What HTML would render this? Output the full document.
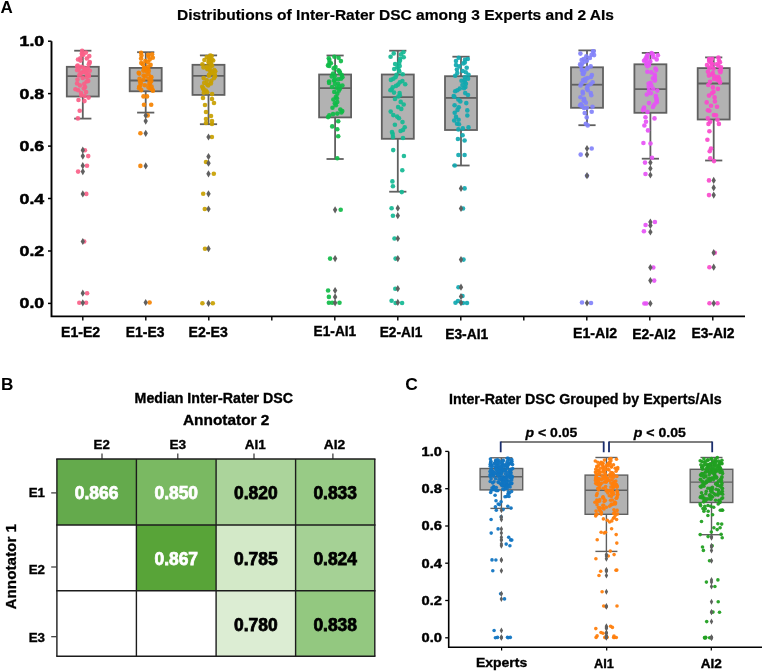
<!DOCTYPE html><html><head><meta charset="utf-8"><style>html,body{margin:0;padding:0;background:#fff;}svg{display:block;will-change:transform;}text{font-family:"Liberation Sans",sans-serif;font-weight:bold;}</style></head><body>
<svg width="765" height="672" viewBox="0 0 765 672">
<rect width="765" height="672" fill="#fff"/>
<text x="0.5" y="12.8" font-size="17" text-anchor="start" fill="#000" >A</text>
<text x="177" y="20.4" font-size="15" text-anchor="start" fill="#000" textLength="437" lengthAdjust="spacingAndGlyphs" stroke="#000" stroke-width="0.2" >Distributions of Inter-Rater DSC among 3 Experts and 2 AIs</text>
<path d="M51.5 41.2 V316.4 H745" fill="none" stroke="#000" stroke-width="1.9"/>
<line x1="48" y1="303.4" x2="51.5" y2="303.4" stroke="#000" stroke-width="1.5"/>
<text x="44.2" y="308.4" font-size="14" text-anchor="end" fill="#000" textLength="24.6" lengthAdjust="spacingAndGlyphs" stroke="#000" stroke-width="0.5" >0.0</text>
<line x1="48" y1="251.0" x2="51.5" y2="251.0" stroke="#000" stroke-width="1.5"/>
<text x="44.2" y="255.95999999999998" font-size="14" text-anchor="end" fill="#000" textLength="24.6" lengthAdjust="spacingAndGlyphs" stroke="#000" stroke-width="0.5" >0.2</text>
<line x1="48" y1="198.5" x2="51.5" y2="198.5" stroke="#000" stroke-width="1.5"/>
<text x="44.2" y="203.51999999999998" font-size="14" text-anchor="end" fill="#000" textLength="24.6" lengthAdjust="spacingAndGlyphs" stroke="#000" stroke-width="0.5" >0.4</text>
<line x1="48" y1="146.1" x2="51.5" y2="146.1" stroke="#000" stroke-width="1.5"/>
<text x="44.2" y="151.07999999999998" font-size="14" text-anchor="end" fill="#000" textLength="24.6" lengthAdjust="spacingAndGlyphs" stroke="#000" stroke-width="0.5" >0.6</text>
<line x1="48" y1="93.6" x2="51.5" y2="93.6" stroke="#000" stroke-width="1.5"/>
<text x="44.2" y="98.63999999999999" font-size="14" text-anchor="end" fill="#000" textLength="24.6" lengthAdjust="spacingAndGlyphs" stroke="#000" stroke-width="0.5" >0.8</text>
<line x1="48" y1="41.2" x2="51.5" y2="41.2" stroke="#000" stroke-width="1.5"/>
<text x="44.2" y="46.19999999999999" font-size="14" text-anchor="end" fill="#000" textLength="24.6" lengthAdjust="spacingAndGlyphs" stroke="#000" stroke-width="0.5" >1.0</text>
<line x1="82.8" y1="316.4" x2="82.8" y2="320.5" stroke="#000" stroke-width="1.4"/>
<line x1="145.8" y1="316.4" x2="145.8" y2="320.5" stroke="#000" stroke-width="1.4"/>
<line x1="208.8" y1="316.4" x2="208.8" y2="320.5" stroke="#000" stroke-width="1.4"/>
<line x1="271.8" y1="316.4" x2="271.8" y2="320.5" stroke="#000" stroke-width="1.4"/>
<line x1="334.8" y1="316.4" x2="334.8" y2="320.5" stroke="#000" stroke-width="1.4"/>
<line x1="397.8" y1="316.4" x2="397.8" y2="320.5" stroke="#000" stroke-width="1.4"/>
<line x1="460.8" y1="316.4" x2="460.8" y2="320.5" stroke="#000" stroke-width="1.4"/>
<line x1="523.8" y1="316.4" x2="523.8" y2="320.5" stroke="#000" stroke-width="1.4"/>
<line x1="586.8" y1="316.4" x2="586.8" y2="320.5" stroke="#000" stroke-width="1.4"/>
<line x1="649.8" y1="316.4" x2="649.8" y2="320.5" stroke="#000" stroke-width="1.4"/>
<line x1="712.8" y1="316.4" x2="712.8" y2="320.5" stroke="#000" stroke-width="1.4"/>
<text x="80.6" y="336.79999999999995" font-size="14.6" text-anchor="middle" fill="#000" textLength="39.2" lengthAdjust="spacingAndGlyphs" stroke="#000" stroke-width="0.35" >E1-E2</text>
<text x="145.1" y="336.79999999999995" font-size="14.6" text-anchor="middle" fill="#000" textLength="38.7" lengthAdjust="spacingAndGlyphs" stroke="#000" stroke-width="0.35" >E1-E3</text>
<text x="208.2" y="336.79999999999995" font-size="14.6" text-anchor="middle" fill="#000" textLength="39.2" lengthAdjust="spacingAndGlyphs" stroke="#000" stroke-width="0.35" >E2-E3</text>
<text x="334.9" y="335.7" font-size="14.6" text-anchor="middle" fill="#000" textLength="42.6" lengthAdjust="spacingAndGlyphs" stroke="#000" stroke-width="0.35" >E1-AI1</text>
<text x="401" y="336.79999999999995" font-size="14.6" text-anchor="middle" fill="#000" textLength="42.7" lengthAdjust="spacingAndGlyphs" stroke="#000" stroke-width="0.35" >E2-AI1</text>
<text x="466.7" y="339.4" font-size="14.6" text-anchor="middle" fill="#000" textLength="43.1" lengthAdjust="spacingAndGlyphs" stroke="#000" stroke-width="0.35" >E3-AI1</text>
<text x="595" y="337.5" font-size="14.6" text-anchor="middle" fill="#000" textLength="44.1" lengthAdjust="spacingAndGlyphs" stroke="#000" stroke-width="0.35" >E1-AI2</text>
<text x="654" y="339.29999999999995" font-size="14.6" text-anchor="middle" fill="#000" textLength="43.3" lengthAdjust="spacingAndGlyphs" stroke="#000" stroke-width="0.35" >E2-AI2</text>
<text x="713" y="337.5" font-size="14.6" text-anchor="middle" fill="#000" textLength="43.2" lengthAdjust="spacingAndGlyphs" stroke="#000" stroke-width="0.35" >E3-AI2</text>
<g stroke="#606060" stroke-width="1.8" fill="none"><line x1="82.8" y1="50.7" x2="82.8" y2="66.8"/><line x1="82.8" y1="96.5" x2="82.8" y2="118.6"/><line x1="74.2" y1="50.7" x2="91.39999999999999" y2="50.7"/><line x1="74.2" y1="118.6" x2="91.39999999999999" y2="118.6"/><rect x="66.8" y="66.8" width="32" height="29.700000000000003" fill="#b2b2b2"/><line x1="66.8" y1="76.2" x2="98.8" y2="76.2"/></g>
<g stroke="#606060" stroke-width="1.8" fill="none"><line x1="145.7" y1="52.2" x2="145.7" y2="67.9"/><line x1="145.7" y1="91.3" x2="145.7" y2="112.6"/><line x1="137.1" y1="52.2" x2="154.29999999999998" y2="52.2"/><line x1="137.1" y1="112.6" x2="154.29999999999998" y2="112.6"/><rect x="129.7" y="67.9" width="32" height="23.39999999999999" fill="#b2b2b2"/><line x1="129.7" y1="80.5" x2="161.7" y2="80.5"/></g>
<g stroke="#606060" stroke-width="1.8" fill="none"><line x1="208.5" y1="55.4" x2="208.5" y2="64.8"/><line x1="208.5" y1="94.9" x2="208.5" y2="124.2"/><line x1="199.9" y1="55.4" x2="217.1" y2="55.4"/><line x1="199.9" y1="124.2" x2="217.1" y2="124.2"/><rect x="192.5" y="64.8" width="32" height="30.10000000000001" fill="#b2b2b2"/><line x1="192.5" y1="75.8" x2="224.5" y2="75.8"/></g>
<g stroke="#606060" stroke-width="1.8" fill="none"><line x1="335.1" y1="55.5" x2="335.1" y2="74.5"/><line x1="335.1" y1="117.4" x2="335.1" y2="159.0"/><line x1="326.5" y1="55.5" x2="343.70000000000005" y2="55.5"/><line x1="326.5" y1="159.0" x2="343.70000000000005" y2="159.0"/><rect x="319.1" y="74.5" width="32" height="42.900000000000006" fill="#b2b2b2"/><line x1="319.1" y1="88.1" x2="351.1" y2="88.1"/></g>
<g stroke="#606060" stroke-width="1.8" fill="none"><line x1="397.8" y1="50.7" x2="397.8" y2="74.5"/><line x1="397.8" y1="138.8" x2="397.8" y2="191.7"/><line x1="389.2" y1="50.7" x2="406.40000000000003" y2="50.7"/><line x1="389.2" y1="191.7" x2="406.40000000000003" y2="191.7"/><rect x="381.8" y="74.5" width="32" height="64.30000000000001" fill="#b2b2b2"/><line x1="381.8" y1="97.1" x2="413.8" y2="97.1"/></g>
<g stroke="#606060" stroke-width="1.8" fill="none"><line x1="461.0" y1="56.7" x2="461.0" y2="76.2"/><line x1="461.0" y1="130.0" x2="461.0" y2="165.5"/><line x1="452.4" y1="56.7" x2="469.6" y2="56.7"/><line x1="452.4" y1="165.5" x2="469.6" y2="165.5"/><rect x="445.0" y="76.2" width="32" height="53.8" fill="#b2b2b2"/><line x1="445.0" y1="97.9" x2="477.0" y2="97.9"/></g>
<g stroke="#606060" stroke-width="1.8" fill="none"><line x1="587.0" y1="50.4" x2="587.0" y2="67.3"/><line x1="587.0" y1="107.8" x2="587.0" y2="125.2"/><line x1="578.4" y1="50.4" x2="595.6" y2="50.4"/><line x1="578.4" y1="125.2" x2="595.6" y2="125.2"/><rect x="571.0" y="67.3" width="32" height="40.5" fill="#b2b2b2"/><line x1="571.0" y1="84.7" x2="603.0" y2="84.7"/></g>
<g stroke="#606060" stroke-width="1.8" fill="none"><line x1="650.4" y1="52.9" x2="650.4" y2="64.3"/><line x1="650.4" y1="112.8" x2="650.4" y2="158.7"/><line x1="641.8" y1="52.9" x2="659.0" y2="52.9"/><line x1="641.8" y1="158.7" x2="659.0" y2="158.7"/><rect x="634.4" y="64.3" width="32" height="48.5" fill="#b2b2b2"/><line x1="634.4" y1="89.2" x2="666.4" y2="89.2"/></g>
<g stroke="#606060" stroke-width="1.8" fill="none"><line x1="713.7" y1="57.4" x2="713.7" y2="68.1"/><line x1="713.7" y1="119.5" x2="713.7" y2="160.5"/><line x1="705.1" y1="57.4" x2="722.3000000000001" y2="57.4"/><line x1="705.1" y1="160.5" x2="722.3000000000001" y2="160.5"/><rect x="697.7" y="68.1" width="32" height="51.400000000000006" fill="#b2b2b2"/><line x1="697.7" y1="83.5" x2="729.7" y2="83.5"/></g>
<g fill="#fa6088" fill-opacity="0.92"><circle cx="82.1" cy="50.9" r="2.3"/><circle cx="85.9" cy="52.6" r="2.3"/><circle cx="81.8" cy="53.6" r="2.3"/><circle cx="83.3" cy="54.8" r="2.3"/><circle cx="82.1" cy="55.1" r="2.3"/><circle cx="89.3" cy="56.1" r="2.3"/><circle cx="80.3" cy="58.2" r="2.3"/><circle cx="86.8" cy="58.5" r="2.3"/><circle cx="78.0" cy="59.5" r="2.3"/><circle cx="80.5" cy="60.6" r="2.3"/><circle cx="89.7" cy="62.1" r="2.3"/><circle cx="89.6" cy="62.7" r="2.3"/><circle cx="88.8" cy="64.2" r="2.3"/><circle cx="77.7" cy="65.5" r="2.3"/><circle cx="77.2" cy="66.4" r="2.3"/><circle cx="81.2" cy="66.8" r="2.3"/><circle cx="83.8" cy="67.8" r="2.3"/><circle cx="87.9" cy="68.1" r="2.3"/><circle cx="78.9" cy="69.1" r="2.3"/><circle cx="84.9" cy="69.4" r="2.3"/><circle cx="77.2" cy="70.3" r="2.3"/><circle cx="89.8" cy="70.7" r="2.3"/><circle cx="86.1" cy="71.3" r="2.3"/><circle cx="82.9" cy="72.0" r="2.3"/><circle cx="84.2" cy="72.3" r="2.3"/><circle cx="80.4" cy="73.0" r="2.3"/><circle cx="80.7" cy="73.8" r="2.3"/><circle cx="86.7" cy="74.1" r="2.3"/><circle cx="88.7" cy="74.9" r="2.3"/><circle cx="79.1" cy="75.4" r="2.3"/><circle cx="88.9" cy="76.1" r="2.3"/><circle cx="86.8" cy="77.1" r="2.3"/><circle cx="82.7" cy="78.1" r="2.3"/><circle cx="77.5" cy="79.5" r="2.3"/><circle cx="88.2" cy="80.9" r="2.3"/><circle cx="86.6" cy="81.5" r="2.3"/><circle cx="77.1" cy="83.4" r="2.3"/><circle cx="84.2" cy="83.9" r="2.3"/><circle cx="79.9" cy="85.4" r="2.3"/><circle cx="85.1" cy="87.1" r="2.3"/><circle cx="83.8" cy="88.6" r="2.3"/><circle cx="75.5" cy="89.3" r="2.3"/><circle cx="78.2" cy="90.3" r="2.3"/><circle cx="86.1" cy="92.1" r="2.3"/><circle cx="81.1" cy="93.0" r="2.3"/><circle cx="81.3" cy="95.2" r="2.3"/><circle cx="84.6" cy="96.1" r="2.3"/><circle cx="88.6" cy="97.6" r="2.3"/><circle cx="78.5" cy="100.0" r="2.3"/><circle cx="84.5" cy="101.1" r="2.3"/><circle cx="79.7" cy="110.7" r="2.3"/><circle cx="77.9" cy="118.4" r="2.3"/><circle cx="84.9" cy="150.2" r="2.3"/><circle cx="88.2" cy="156.1" r="2.3"/><circle cx="87.0" cy="165.7" r="2.3"/><circle cx="78.1" cy="171.6" r="2.3"/><circle cx="86.3" cy="193.9" r="2.3"/><circle cx="84.2" cy="241.5" r="2.3"/><circle cx="87.1" cy="293.2" r="2.3"/><circle cx="79.3" cy="302.8" r="2.3"/><circle cx="86.1" cy="302.8" r="2.3"/></g>
<g fill="#606060"><path d="M82.8 146.6 l2.2 3.6 l-2.2 3.6 l-2.2 -3.6z"/><path d="M82.8 152.5 l2.2 3.6 l-2.2 3.6 l-2.2 -3.6z"/><path d="M82.8 162.1 l2.2 3.6 l-2.2 3.6 l-2.2 -3.6z"/><path d="M82.8 168.0 l2.2 3.6 l-2.2 3.6 l-2.2 -3.6z"/><path d="M82.8 190.3 l2.2 3.6 l-2.2 3.6 l-2.2 -3.6z"/><path d="M82.8 237.9 l2.2 3.6 l-2.2 3.6 l-2.2 -3.6z"/><path d="M82.8 289.6 l2.2 3.6 l-2.2 3.6 l-2.2 -3.6z"/><path d="M82.8 299.2 l2.2 3.6 l-2.2 3.6 l-2.2 -3.6z"/></g>
<g fill="#f58200" fill-opacity="0.92"><circle cx="141.1" cy="52.8" r="2.3"/><circle cx="152.1" cy="54.3" r="2.3"/><circle cx="148.2" cy="54.8" r="2.3"/><circle cx="141.5" cy="55.6" r="2.3"/><circle cx="148.6" cy="56.7" r="2.3"/><circle cx="152.8" cy="57.7" r="2.3"/><circle cx="141.1" cy="58.6" r="2.3"/><circle cx="149.7" cy="59.6" r="2.3"/><circle cx="145.3" cy="61.0" r="2.3"/><circle cx="147.8" cy="62.0" r="2.3"/><circle cx="141.3" cy="63.1" r="2.3"/><circle cx="142.8" cy="64.2" r="2.3"/><circle cx="150.6" cy="64.9" r="2.3"/><circle cx="148.2" cy="66.5" r="2.3"/><circle cx="144.1" cy="67.8" r="2.3"/><circle cx="144.5" cy="68.2" r="2.3"/><circle cx="148.2" cy="69.0" r="2.3"/><circle cx="145.2" cy="69.5" r="2.3"/><circle cx="143.4" cy="70.7" r="2.3"/><circle cx="148.8" cy="71.1" r="2.3"/><circle cx="146.7" cy="71.8" r="2.3"/><circle cx="138.7" cy="72.7" r="2.3"/><circle cx="139.2" cy="73.6" r="2.3"/><circle cx="148.5" cy="74.3" r="2.3"/><circle cx="143.6" cy="75.6" r="2.3"/><circle cx="145.3" cy="76.3" r="2.3"/><circle cx="151.3" cy="77.0" r="2.3"/><circle cx="151.2" cy="77.6" r="2.3"/><circle cx="148.5" cy="78.7" r="2.3"/><circle cx="139.5" cy="78.9" r="2.3"/><circle cx="143.4" cy="79.7" r="2.3"/><circle cx="151.3" cy="81.1" r="2.3"/><circle cx="140.0" cy="81.7" r="2.3"/><circle cx="149.8" cy="82.3" r="2.3"/><circle cx="150.1" cy="83.1" r="2.3"/><circle cx="140.9" cy="83.3" r="2.3"/><circle cx="149.3" cy="84.4" r="2.3"/><circle cx="144.9" cy="85.2" r="2.3"/><circle cx="140.3" cy="85.8" r="2.3"/><circle cx="151.5" cy="86.5" r="2.3"/><circle cx="139.2" cy="86.8" r="2.3"/><circle cx="148.5" cy="87.6" r="2.3"/><circle cx="139.1" cy="88.2" r="2.3"/><circle cx="150.6" cy="88.8" r="2.3"/><circle cx="152.3" cy="89.3" r="2.3"/><circle cx="141.3" cy="90.1" r="2.3"/><circle cx="152.9" cy="90.7" r="2.3"/><circle cx="143.5" cy="96.4" r="2.3"/><circle cx="147.0" cy="96.4" r="2.3"/><circle cx="144.0" cy="104.7" r="2.3"/><circle cx="151.2" cy="104.7" r="2.3"/><circle cx="147.7" cy="115.4" r="2.3"/><circle cx="140.4" cy="133.3" r="2.3"/><circle cx="140.4" cy="165.9" r="2.3"/><circle cx="149.6" cy="302.5" r="2.3"/></g>
<g fill="#606060"><path d="M145.7 111.8 l2.2 3.6 l-2.2 3.6 l-2.2 -3.6z"/><path d="M145.7 117.5 l2.2 3.6 l-2.2 3.6 l-2.2 -3.6z"/><path d="M145.7 129.7 l2.2 3.6 l-2.2 3.6 l-2.2 -3.6z"/><path d="M145.7 162.3 l2.2 3.6 l-2.2 3.6 l-2.2 -3.6z"/><path d="M145.7 298.9 l2.2 3.6 l-2.2 3.6 l-2.2 -3.6z"/></g>
<g fill="#c8a000" fill-opacity="0.92"><circle cx="210.2" cy="55.5" r="2.3"/><circle cx="211.7" cy="56.1" r="2.3"/><circle cx="206.8" cy="57.0" r="2.3"/><circle cx="209.5" cy="57.7" r="2.3"/><circle cx="209.0" cy="57.9" r="2.3"/><circle cx="208.8" cy="58.9" r="2.3"/><circle cx="212.0" cy="59.7" r="2.3"/><circle cx="204.4" cy="60.0" r="2.3"/><circle cx="213.2" cy="60.5" r="2.3"/><circle cx="210.1" cy="61.5" r="2.3"/><circle cx="208.5" cy="61.9" r="2.3"/><circle cx="209.0" cy="62.4" r="2.3"/><circle cx="210.3" cy="63.0" r="2.3"/><circle cx="211.1" cy="63.9" r="2.3"/><circle cx="202.4" cy="64.3" r="2.3"/><circle cx="211.3" cy="65.0" r="2.3"/><circle cx="212.2" cy="65.8" r="2.3"/><circle cx="207.0" cy="66.5" r="2.3"/><circle cx="203.5" cy="67.5" r="2.3"/><circle cx="209.8" cy="67.7" r="2.3"/><circle cx="207.5" cy="68.7" r="2.3"/><circle cx="207.6" cy="69.3" r="2.3"/><circle cx="214.3" cy="70.1" r="2.3"/><circle cx="210.6" cy="70.9" r="2.3"/><circle cx="215.2" cy="71.3" r="2.3"/><circle cx="210.4" cy="72.0" r="2.3"/><circle cx="211.3" cy="73.0" r="2.3"/><circle cx="212.1" cy="73.3" r="2.3"/><circle cx="214.7" cy="74.2" r="2.3"/><circle cx="209.0" cy="74.9" r="2.3"/><circle cx="208.9" cy="75.8" r="2.3"/><circle cx="215.1" cy="76.3" r="2.3"/><circle cx="203.6" cy="78.1" r="2.3"/><circle cx="213.9" cy="78.3" r="2.3"/><circle cx="206.8" cy="80.4" r="2.3"/><circle cx="211.3" cy="80.9" r="2.3"/><circle cx="204.2" cy="82.9" r="2.3"/><circle cx="210.9" cy="83.5" r="2.3"/><circle cx="207.2" cy="84.4" r="2.3"/><circle cx="208.2" cy="85.5" r="2.3"/><circle cx="202.2" cy="86.8" r="2.3"/><circle cx="203.3" cy="88.2" r="2.3"/><circle cx="203.3" cy="89.1" r="2.3"/><circle cx="205.8" cy="90.6" r="2.3"/><circle cx="207.2" cy="92.2" r="2.3"/><circle cx="203.8" cy="92.8" r="2.3"/><circle cx="212.1" cy="94.1" r="2.3"/><circle cx="203.0" cy="98.0" r="2.3"/><circle cx="212.0" cy="99.0" r="2.3"/><circle cx="205.0" cy="105.0" r="2.3"/><circle cx="214.0" cy="103.0" r="2.3"/><circle cx="206.0" cy="112.0" r="2.3"/><circle cx="211.0" cy="116.0" r="2.3"/><circle cx="206.0" cy="119.0" r="2.3"/><circle cx="212.0" cy="121.0" r="2.3"/><circle cx="206.0" cy="123.0" r="2.3"/><circle cx="212.0" cy="124.0" r="2.3"/><circle cx="211.9" cy="137.0" r="2.3"/><circle cx="206.0" cy="162.0" r="2.3"/><circle cx="213.8" cy="173.8" r="2.3"/><circle cx="203.2" cy="193.8" r="2.3"/><circle cx="204.8" cy="209.0" r="2.3"/><circle cx="205.0" cy="248.7" r="2.3"/><circle cx="202.4" cy="303.3" r="2.3"/><circle cx="212.8" cy="303.3" r="2.3"/></g>
<g fill="#606060"><path d="M208.5 133.4 l2.2 3.6 l-2.2 3.6 l-2.2 -3.6z"/><path d="M208.5 153.0 l2.2 3.6 l-2.2 3.6 l-2.2 -3.6z"/><path d="M208.5 159.6 l2.2 3.6 l-2.2 3.6 l-2.2 -3.6z"/><path d="M208.5 170.2 l2.2 3.6 l-2.2 3.6 l-2.2 -3.6z"/><path d="M208.5 190.2 l2.2 3.6 l-2.2 3.6 l-2.2 -3.6z"/><path d="M208.5 205.4 l2.2 3.6 l-2.2 3.6 l-2.2 -3.6z"/><path d="M208.5 245.1 l2.2 3.6 l-2.2 3.6 l-2.2 -3.6z"/><path d="M208.5 299.7 l2.2 3.6 l-2.2 3.6 l-2.2 -3.6z"/></g>
<g fill="#10bb48" fill-opacity="0.92"><circle cx="334.4" cy="56.7" r="2.3"/><circle cx="338.6" cy="57.7" r="2.3"/><circle cx="328.8" cy="58.3" r="2.3"/><circle cx="329.4" cy="60.1" r="2.3"/><circle cx="340.9" cy="61.1" r="2.3"/><circle cx="329.4" cy="62.9" r="2.3"/><circle cx="330.9" cy="63.2" r="2.3"/><circle cx="328.0" cy="65.4" r="2.3"/><circle cx="329.2" cy="65.9" r="2.3"/><circle cx="335.5" cy="67.1" r="2.3"/><circle cx="333.7" cy="68.4" r="2.3"/><circle cx="338.4" cy="70.4" r="2.3"/><circle cx="339.4" cy="71.2" r="2.3"/><circle cx="340.0" cy="72.7" r="2.3"/><circle cx="333.1" cy="73.5" r="2.3"/><circle cx="341.8" cy="75.0" r="2.3"/><circle cx="334.7" cy="75.9" r="2.3"/><circle cx="331.8" cy="76.4" r="2.3"/><circle cx="342.4" cy="77.2" r="2.3"/><circle cx="341.0" cy="78.7" r="2.3"/><circle cx="338.2" cy="79.2" r="2.3"/><circle cx="334.8" cy="79.9" r="2.3"/><circle cx="333.9" cy="80.6" r="2.3"/><circle cx="329.1" cy="81.5" r="2.3"/><circle cx="329.1" cy="82.9" r="2.3"/><circle cx="338.1" cy="83.7" r="2.3"/><circle cx="334.9" cy="83.9" r="2.3"/><circle cx="342.4" cy="85.5" r="2.3"/><circle cx="339.2" cy="86.0" r="2.3"/><circle cx="332.0" cy="87.0" r="2.3"/><circle cx="336.6" cy="87.7" r="2.3"/><circle cx="339.9" cy="88.8" r="2.3"/><circle cx="338.8" cy="90.7" r="2.3"/><circle cx="334.3" cy="91.9" r="2.3"/><circle cx="337.3" cy="93.7" r="2.3"/><circle cx="335.8" cy="97.0" r="2.3"/><circle cx="336.9" cy="98.3" r="2.3"/><circle cx="333.4" cy="99.5" r="2.3"/><circle cx="337.3" cy="102.0" r="2.3"/><circle cx="334.8" cy="103.4" r="2.3"/><circle cx="335.9" cy="105.2" r="2.3"/><circle cx="332.5" cy="107.7" r="2.3"/><circle cx="340.3" cy="109.5" r="2.3"/><circle cx="342.3" cy="111.1" r="2.3"/><circle cx="341.4" cy="112.5" r="2.3"/><circle cx="333.1" cy="114.1" r="2.3"/><circle cx="328.1" cy="117.1" r="2.3"/><circle cx="329.3" cy="115.4" r="2.3"/><circle cx="337.3" cy="113.6" r="2.3"/><circle cx="338.2" cy="121.3" r="2.3"/><circle cx="332.2" cy="126.4" r="2.3"/><circle cx="337.3" cy="129.3" r="2.3"/><circle cx="338.2" cy="136.2" r="2.3"/><circle cx="337.3" cy="158.2" r="2.3"/><circle cx="340.7" cy="209.8" r="2.3"/><circle cx="330.1" cy="258.6" r="2.3"/><circle cx="328.1" cy="290.5" r="2.3"/><circle cx="328.9" cy="296.9" r="2.3"/><circle cx="328.9" cy="302.8" r="2.3"/><circle cx="332.2" cy="302.8" r="2.3"/><circle cx="339.5" cy="302.8" r="2.3"/></g>
<g fill="#606060"><path d="M335.1 206.2 l2.2 3.6 l-2.2 3.6 l-2.2 -3.6z"/><path d="M335.1 255.0 l2.2 3.6 l-2.2 3.6 l-2.2 -3.6z"/><path d="M335.1 286.9 l2.2 3.6 l-2.2 3.6 l-2.2 -3.6z"/><path d="M335.1 293.3 l2.2 3.6 l-2.2 3.6 l-2.2 -3.6z"/><path d="M335.1 299.2 l2.2 3.6 l-2.2 3.6 l-2.2 -3.6z"/></g>
<g fill="#14b894" fill-opacity="0.92"><circle cx="403.4" cy="52.2" r="2.3"/><circle cx="393.7" cy="53.4" r="2.3"/><circle cx="401.0" cy="54.4" r="2.3"/><circle cx="390.6" cy="56.7" r="2.3"/><circle cx="403.7" cy="57.3" r="2.3"/><circle cx="400.1" cy="58.8" r="2.3"/><circle cx="400.0" cy="60.7" r="2.3"/><circle cx="399.0" cy="63.2" r="2.3"/><circle cx="395.1" cy="64.0" r="2.3"/><circle cx="399.7" cy="66.0" r="2.3"/><circle cx="397.3" cy="67.2" r="2.3"/><circle cx="394.2" cy="69.0" r="2.3"/><circle cx="398.8" cy="70.0" r="2.3"/><circle cx="399.3" cy="71.5" r="2.3"/><circle cx="402.7" cy="74.2" r="2.3"/><circle cx="396.5" cy="74.9" r="2.3"/><circle cx="395.5" cy="77.2" r="2.3"/><circle cx="393.3" cy="78.7" r="2.3"/><circle cx="390.9" cy="79.9" r="2.3"/><circle cx="402.4" cy="81.1" r="2.3"/><circle cx="399.8" cy="82.3" r="2.3"/><circle cx="405.2" cy="84.3" r="2.3"/><circle cx="398.1" cy="84.6" r="2.3"/><circle cx="396.0" cy="85.9" r="2.3"/><circle cx="392.7" cy="87.4" r="2.3"/><circle cx="391.6" cy="89.5" r="2.3"/><circle cx="390.4" cy="90.3" r="2.3"/><circle cx="394.0" cy="92.6" r="2.3"/><circle cx="399.6" cy="93.0" r="2.3"/><circle cx="399.8" cy="95.3" r="2.3"/><circle cx="398.3" cy="96.5" r="2.3"/><circle cx="395.0" cy="99.0" r="2.3"/><circle cx="400.7" cy="101.9" r="2.3"/><circle cx="403.7" cy="104.5" r="2.3"/><circle cx="398.1" cy="107.1" r="2.3"/><circle cx="401.3" cy="108.9" r="2.3"/><circle cx="390.7" cy="111.6" r="2.3"/><circle cx="393.3" cy="115.1" r="2.3"/><circle cx="397.1" cy="116.6" r="2.3"/><circle cx="399.0" cy="118.2" r="2.3"/><circle cx="402.5" cy="122.1" r="2.3"/><circle cx="394.9" cy="124.8" r="2.3"/><circle cx="404.7" cy="127.2" r="2.3"/><circle cx="403.0" cy="130.0" r="2.3"/><circle cx="400.6" cy="131.0" r="2.3"/><circle cx="392.7" cy="134.1" r="2.3"/><circle cx="393.0" cy="137.1" r="2.3"/><circle cx="392.0" cy="132.0" r="2.3"/><circle cx="403.0" cy="138.0" r="2.3"/><circle cx="393.2" cy="150.1" r="2.3"/><circle cx="403.9" cy="156.0" r="2.3"/><circle cx="402.3" cy="170.2" r="2.3"/><circle cx="392.4" cy="181.4" r="2.3"/><circle cx="392.9" cy="186.3" r="2.3"/><circle cx="401.8" cy="192.1" r="2.3"/><circle cx="391.6" cy="208.2" r="2.3"/><circle cx="392.9" cy="215.7" r="2.3"/><circle cx="394.5" cy="238.5" r="2.3"/><circle cx="395.6" cy="258.6" r="2.3"/><circle cx="395.3" cy="288.8" r="2.3"/><circle cx="391.6" cy="300.7" r="2.3"/><circle cx="395.6" cy="303.0" r="2.3"/><circle cx="402.1" cy="303.0" r="2.3"/></g>
<g fill="#606060"><path d="M397.8 204.6 l2.2 3.6 l-2.2 3.6 l-2.2 -3.6z"/><path d="M397.8 212.1 l2.2 3.6 l-2.2 3.6 l-2.2 -3.6z"/><path d="M397.8 234.9 l2.2 3.6 l-2.2 3.6 l-2.2 -3.6z"/><path d="M397.8 255.0 l2.2 3.6 l-2.2 3.6 l-2.2 -3.6z"/><path d="M397.8 285.1 l2.2 3.6 l-2.2 3.6 l-2.2 -3.6z"/><path d="M397.8 298.8 l2.2 3.6 l-2.2 3.6 l-2.2 -3.6z"/></g>
<g fill="#10a8b0" fill-opacity="0.92"><circle cx="458.7" cy="57.8" r="2.3"/><circle cx="467.8" cy="59.0" r="2.3"/><circle cx="465.0" cy="59.7" r="2.3"/><circle cx="456.0" cy="61.0" r="2.3"/><circle cx="464.8" cy="62.4" r="2.3"/><circle cx="463.4" cy="63.4" r="2.3"/><circle cx="456.0" cy="65.0" r="2.3"/><circle cx="459.3" cy="66.4" r="2.3"/><circle cx="466.7" cy="67.7" r="2.3"/><circle cx="456.9" cy="69.6" r="2.3"/><circle cx="462.7" cy="71.0" r="2.3"/><circle cx="465.8" cy="72.2" r="2.3"/><circle cx="457.3" cy="73.0" r="2.3"/><circle cx="468.5" cy="74.8" r="2.3"/><circle cx="455.2" cy="75.7" r="2.3"/><circle cx="465.0" cy="77.3" r="2.3"/><circle cx="468.1" cy="78.7" r="2.3"/><circle cx="464.5" cy="80.2" r="2.3"/><circle cx="461.5" cy="80.8" r="2.3"/><circle cx="464.9" cy="82.3" r="2.3"/><circle cx="465.9" cy="83.8" r="2.3"/><circle cx="462.4" cy="85.0" r="2.3"/><circle cx="465.4" cy="87.0" r="2.3"/><circle cx="464.0" cy="88.3" r="2.3"/><circle cx="459.8" cy="88.6" r="2.3"/><circle cx="457.4" cy="90.2" r="2.3"/><circle cx="455.2" cy="91.3" r="2.3"/><circle cx="465.2" cy="93.1" r="2.3"/><circle cx="468.0" cy="95.0" r="2.3"/><circle cx="453.7" cy="96.0" r="2.3"/><circle cx="454.4" cy="96.8" r="2.3"/><circle cx="458.3" cy="99.6" r="2.3"/><circle cx="460.3" cy="101.4" r="2.3"/><circle cx="466.3" cy="103.1" r="2.3"/><circle cx="454.6" cy="105.2" r="2.3"/><circle cx="458.8" cy="107.2" r="2.3"/><circle cx="457.5" cy="109.9" r="2.3"/><circle cx="467.3" cy="110.4" r="2.3"/><circle cx="454.7" cy="112.8" r="2.3"/><circle cx="467.3" cy="115.5" r="2.3"/><circle cx="456.0" cy="116.9" r="2.3"/><circle cx="458.6" cy="119.7" r="2.3"/><circle cx="454.2" cy="120.5" r="2.3"/><circle cx="457.0" cy="123.7" r="2.3"/><circle cx="459.0" cy="124.2" r="2.3"/><circle cx="468.5" cy="127.4" r="2.3"/><circle cx="462.8" cy="128.4" r="2.3"/><circle cx="458.4" cy="129.4" r="2.3"/><circle cx="462.6" cy="135.3" r="2.3"/><circle cx="457.9" cy="139.0" r="2.3"/><circle cx="464.6" cy="140.5" r="2.3"/><circle cx="458.4" cy="155.0" r="2.3"/><circle cx="464.6" cy="155.0" r="2.3"/><circle cx="454.7" cy="165.5" r="2.3"/><circle cx="464.6" cy="188.4" r="2.3"/><circle cx="463.0" cy="208.5" r="2.3"/><circle cx="463.5" cy="259.6" r="2.3"/><circle cx="458.5" cy="287.2" r="2.3"/><circle cx="462.5" cy="296.0" r="2.3"/><circle cx="455.5" cy="302.7" r="2.3"/><circle cx="458.0" cy="301.0" r="2.3"/><circle cx="463.0" cy="303.0" r="2.3"/><circle cx="467.0" cy="303.0" r="2.3"/></g>
<g fill="#606060"><path d="M461.0 184.8 l2.2 3.6 l-2.2 3.6 l-2.2 -3.6z"/><path d="M461.0 204.9 l2.2 3.6 l-2.2 3.6 l-2.2 -3.6z"/><path d="M461.0 256.0 l2.2 3.6 l-2.2 3.6 l-2.2 -3.6z"/><path d="M461.0 283.6 l2.2 3.6 l-2.2 3.6 l-2.2 -3.6z"/><path d="M461.0 292.9 l2.2 3.6 l-2.2 3.6 l-2.2 -3.6z"/><path d="M461.0 299.1 l2.2 3.6 l-2.2 3.6 l-2.2 -3.6z"/></g>
<g fill="#8282fa" fill-opacity="0.92"><circle cx="593.0" cy="51.2" r="2.3"/><circle cx="593.6" cy="51.5" r="2.3"/><circle cx="580.4" cy="53.6" r="2.3"/><circle cx="591.6" cy="54.7" r="2.3"/><circle cx="594.1" cy="55.1" r="2.3"/><circle cx="586.3" cy="56.4" r="2.3"/><circle cx="589.9" cy="57.9" r="2.3"/><circle cx="583.7" cy="59.1" r="2.3"/><circle cx="581.6" cy="60.0" r="2.3"/><circle cx="586.9" cy="60.8" r="2.3"/><circle cx="584.7" cy="61.8" r="2.3"/><circle cx="582.2" cy="63.7" r="2.3"/><circle cx="580.1" cy="64.4" r="2.3"/><circle cx="581.0" cy="65.9" r="2.3"/><circle cx="590.7" cy="66.4" r="2.3"/><circle cx="587.8" cy="67.8" r="2.3"/><circle cx="586.9" cy="69.1" r="2.3"/><circle cx="581.8" cy="69.9" r="2.3"/><circle cx="582.6" cy="70.7" r="2.3"/><circle cx="584.3" cy="71.9" r="2.3"/><circle cx="582.7" cy="73.7" r="2.3"/><circle cx="583.5" cy="74.0" r="2.3"/><circle cx="591.9" cy="75.1" r="2.3"/><circle cx="591.0" cy="77.0" r="2.3"/><circle cx="587.7" cy="78.1" r="2.3"/><circle cx="585.3" cy="78.7" r="2.3"/><circle cx="583.1" cy="80.0" r="2.3"/><circle cx="585.3" cy="80.9" r="2.3"/><circle cx="592.6" cy="82.2" r="2.3"/><circle cx="581.6" cy="83.2" r="2.3"/><circle cx="590.5" cy="84.3" r="2.3"/><circle cx="580.5" cy="85.5" r="2.3"/><circle cx="587.6" cy="86.3" r="2.3"/><circle cx="586.9" cy="88.6" r="2.3"/><circle cx="587.7" cy="90.1" r="2.3"/><circle cx="582.7" cy="91.7" r="2.3"/><circle cx="590.7" cy="93.1" r="2.3"/><circle cx="582.9" cy="93.5" r="2.3"/><circle cx="591.3" cy="95.2" r="2.3"/><circle cx="580.5" cy="97.2" r="2.3"/><circle cx="584.1" cy="98.8" r="2.3"/><circle cx="583.7" cy="100.4" r="2.3"/><circle cx="584.5" cy="100.7" r="2.3"/><circle cx="585.9" cy="102.7" r="2.3"/><circle cx="581.1" cy="104.2" r="2.3"/><circle cx="580.1" cy="105.3" r="2.3"/><circle cx="586.8" cy="107.8" r="2.3"/><circle cx="582.0" cy="106.0" r="2.3"/><circle cx="584.0" cy="108.0" r="2.3"/><circle cx="592.5" cy="106.7" r="2.3"/><circle cx="591.7" cy="111.8" r="2.3"/><circle cx="584.7" cy="113.0" r="2.3"/><circle cx="586.7" cy="117.4" r="2.3"/><circle cx="585.8" cy="123.8" r="2.3"/><circle cx="587.7" cy="125.4" r="2.3"/><circle cx="591.7" cy="148.5" r="2.3"/><circle cx="580.7" cy="154.6" r="2.3"/><circle cx="587.0" cy="175.7" r="2.3"/><circle cx="582.0" cy="302.5" r="2.3"/><circle cx="591.0" cy="303.0" r="2.3"/></g>
<g fill="#606060"><path d="M587.0 144.9 l2.2 3.6 l-2.2 3.6 l-2.2 -3.6z"/><path d="M587.0 151.0 l2.2 3.6 l-2.2 3.6 l-2.2 -3.6z"/><path d="M587.0 172.1 l2.2 3.6 l-2.2 3.6 l-2.2 -3.6z"/><path d="M587.0 299.4 l2.2 3.6 l-2.2 3.6 l-2.2 -3.6z"/></g>
<g fill="#e652f5" fill-opacity="0.92"><circle cx="651.6" cy="53.1" r="2.3"/><circle cx="652.8" cy="54.4" r="2.3"/><circle cx="647.5" cy="54.8" r="2.3"/><circle cx="657.9" cy="55.3" r="2.3"/><circle cx="646.7" cy="56.5" r="2.3"/><circle cx="653.5" cy="57.2" r="2.3"/><circle cx="647.1" cy="58.1" r="2.3"/><circle cx="645.7" cy="58.5" r="2.3"/><circle cx="656.7" cy="59.4" r="2.3"/><circle cx="645.0" cy="60.3" r="2.3"/><circle cx="644.0" cy="60.8" r="2.3"/><circle cx="650.3" cy="61.4" r="2.3"/><circle cx="647.0" cy="62.1" r="2.3"/><circle cx="649.2" cy="63.0" r="2.3"/><circle cx="646.4" cy="64.2" r="2.3"/><circle cx="648.9" cy="65.3" r="2.3"/><circle cx="647.4" cy="66.3" r="2.3"/><circle cx="655.5" cy="68.6" r="2.3"/><circle cx="656.2" cy="70.1" r="2.3"/><circle cx="647.4" cy="71.7" r="2.3"/><circle cx="651.4" cy="72.4" r="2.3"/><circle cx="654.7" cy="74.6" r="2.3"/><circle cx="654.9" cy="76.6" r="2.3"/><circle cx="653.0" cy="78.3" r="2.3"/><circle cx="654.9" cy="79.4" r="2.3"/><circle cx="654.9" cy="80.6" r="2.3"/><circle cx="650.6" cy="82.8" r="2.3"/><circle cx="648.6" cy="83.5" r="2.3"/><circle cx="651.4" cy="85.5" r="2.3"/><circle cx="648.7" cy="86.9" r="2.3"/><circle cx="653.2" cy="88.8" r="2.3"/><circle cx="657.3" cy="90.6" r="2.3"/><circle cx="648.9" cy="90.7" r="2.3"/><circle cx="650.9" cy="93.2" r="2.3"/><circle cx="646.8" cy="94.5" r="2.3"/><circle cx="655.8" cy="95.7" r="2.3"/><circle cx="656.1" cy="97.6" r="2.3"/><circle cx="656.7" cy="99.4" r="2.3"/><circle cx="656.6" cy="100.8" r="2.3"/><circle cx="656.8" cy="102.3" r="2.3"/><circle cx="649.0" cy="103.1" r="2.3"/><circle cx="654.4" cy="104.6" r="2.3"/><circle cx="653.0" cy="106.9" r="2.3"/><circle cx="644.1" cy="107.5" r="2.3"/><circle cx="643.9" cy="108.6" r="2.3"/><circle cx="642.9" cy="110.1" r="2.3"/><circle cx="647.5" cy="111.9" r="2.3"/><circle cx="645.5" cy="117.3" r="2.3"/><circle cx="654.5" cy="118.4" r="2.3"/><circle cx="646.0" cy="121.7" r="2.3"/><circle cx="644.4" cy="125.5" r="2.3"/><circle cx="648.0" cy="130.4" r="2.3"/><circle cx="643.4" cy="143.0" r="2.3"/><circle cx="650.5" cy="143.5" r="2.3"/><circle cx="652.0" cy="157.7" r="2.3"/><circle cx="645.0" cy="162.6" r="2.3"/><circle cx="645.5" cy="174.0" r="2.3"/><circle cx="654.9" cy="222.0" r="2.3"/><circle cx="645.6" cy="225.0" r="2.3"/><circle cx="643.9" cy="231.3" r="2.3"/><circle cx="653.3" cy="267.5" r="2.3"/><circle cx="654.2" cy="280.6" r="2.3"/><circle cx="644.4" cy="303.5" r="2.3"/><circle cx="646.4" cy="303.5" r="2.3"/></g>
<g fill="#606060"><path d="M650.4 159.0 l2.2 3.6 l-2.2 3.6 l-2.2 -3.6z"/><path d="M650.4 164.9 l2.2 3.6 l-2.2 3.6 l-2.2 -3.6z"/><path d="M650.4 171.4 l2.2 3.6 l-2.2 3.6 l-2.2 -3.6z"/><path d="M650.4 218.5 l2.2 3.6 l-2.2 3.6 l-2.2 -3.6z"/><path d="M650.4 221.8 l2.2 3.6 l-2.2 3.6 l-2.2 -3.6z"/><path d="M650.4 228.4 l2.2 3.6 l-2.2 3.6 l-2.2 -3.6z"/><path d="M650.4 263.9 l2.2 3.6 l-2.2 3.6 l-2.2 -3.6z"/><path d="M650.4 277.0 l2.2 3.6 l-2.2 3.6 l-2.2 -3.6z"/><path d="M650.4 299.9 l2.2 3.6 l-2.2 3.6 l-2.2 -3.6z"/></g>
<g fill="#fa4acc" fill-opacity="0.92"><circle cx="718.4" cy="57.5" r="2.3"/><circle cx="712.0" cy="58.7" r="2.3"/><circle cx="709.1" cy="59.0" r="2.3"/><circle cx="709.4" cy="59.6" r="2.3"/><circle cx="719.0" cy="60.4" r="2.3"/><circle cx="709.1" cy="61.1" r="2.3"/><circle cx="720.0" cy="62.3" r="2.3"/><circle cx="711.0" cy="62.5" r="2.3"/><circle cx="712.1" cy="63.8" r="2.3"/><circle cx="716.6" cy="64.3" r="2.3"/><circle cx="707.0" cy="65.0" r="2.3"/><circle cx="718.4" cy="65.8" r="2.3"/><circle cx="711.4" cy="66.3" r="2.3"/><circle cx="721.0" cy="67.2" r="2.3"/><circle cx="709.2" cy="68.1" r="2.3"/><circle cx="713.5" cy="68.8" r="2.3"/><circle cx="720.8" cy="70.0" r="2.3"/><circle cx="719.7" cy="70.5" r="2.3"/><circle cx="707.9" cy="71.8" r="2.3"/><circle cx="720.4" cy="72.3" r="2.3"/><circle cx="712.8" cy="73.1" r="2.3"/><circle cx="711.5" cy="74.5" r="2.3"/><circle cx="708.9" cy="75.6" r="2.3"/><circle cx="714.5" cy="76.4" r="2.3"/><circle cx="718.1" cy="76.8" r="2.3"/><circle cx="719.0" cy="78.5" r="2.3"/><circle cx="714.2" cy="78.9" r="2.3"/><circle cx="717.2" cy="79.8" r="2.3"/><circle cx="719.6" cy="81.2" r="2.3"/><circle cx="710.0" cy="81.7" r="2.3"/><circle cx="720.1" cy="82.6" r="2.3"/><circle cx="708.3" cy="85.0" r="2.3"/><circle cx="712.9" cy="87.4" r="2.3"/><circle cx="717.9" cy="88.9" r="2.3"/><circle cx="713.5" cy="91.9" r="2.3"/><circle cx="712.0" cy="93.2" r="2.3"/><circle cx="709.0" cy="95.6" r="2.3"/><circle cx="714.6" cy="97.4" r="2.3"/><circle cx="714.9" cy="101.4" r="2.3"/><circle cx="706.7" cy="102.4" r="2.3"/><circle cx="711.0" cy="105.8" r="2.3"/><circle cx="717.0" cy="106.7" r="2.3"/><circle cx="707.9" cy="110.2" r="2.3"/><circle cx="709.4" cy="110.7" r="2.3"/><circle cx="713.9" cy="115.0" r="2.3"/><circle cx="716.0" cy="115.2" r="2.3"/><circle cx="707.8" cy="118.4" r="2.3"/><circle cx="708.5" cy="123.9" r="2.3"/><circle cx="710.2" cy="121.8" r="2.3"/><circle cx="717.5" cy="119.8" r="2.3"/><circle cx="718.9" cy="123.9" r="2.3"/><circle cx="709.4" cy="131.3" r="2.3"/><circle cx="707.4" cy="139.8" r="2.3"/><circle cx="711.0" cy="148.5" r="2.3"/><circle cx="709.7" cy="151.2" r="2.3"/><circle cx="710.2" cy="158.3" r="2.3"/><circle cx="714.0" cy="161.1" r="2.3"/><circle cx="709.0" cy="180.4" r="2.3"/><circle cx="709.0" cy="195.1" r="2.3"/><circle cx="714.8" cy="252.7" r="2.3"/><circle cx="709.4" cy="267.2" r="2.3"/><circle cx="709.5" cy="303.3" r="2.3"/><circle cx="717.5" cy="303.3" r="2.3"/></g>
<g fill="#606060"><path d="M713.7 176.8 l2.2 3.6 l-2.2 3.6 l-2.2 -3.6z"/><path d="M713.7 184.1 l2.2 3.6 l-2.2 3.6 l-2.2 -3.6z"/><path d="M713.7 191.5 l2.2 3.6 l-2.2 3.6 l-2.2 -3.6z"/><path d="M713.7 249.1 l2.2 3.6 l-2.2 3.6 l-2.2 -3.6z"/><path d="M713.7 263.6 l2.2 3.6 l-2.2 3.6 l-2.2 -3.6z"/><path d="M713.7 299.7 l2.2 3.6 l-2.2 3.6 l-2.2 -3.6z"/></g>
<text x="1.0" y="389.9" font-size="17.2" text-anchor="start" fill="#000" >B</text>
<text x="134.6" y="403.2" font-size="13.8" text-anchor="start" fill="#000" textLength="158.3" lengthAdjust="spacingAndGlyphs" stroke="#000" stroke-width="0.35" >Median Inter-Rater DSC</text>
<text x="183" y="425.4" font-size="14.8" text-anchor="start" fill="#000" textLength="86.4" lengthAdjust="spacingAndGlyphs" stroke="#000" stroke-width="0.35" >Annotator 2</text>
<text x="101.7" y="449" font-size="13.2" text-anchor="middle" fill="#000" textLength="16.2" lengthAdjust="spacingAndGlyphs" stroke="#000" stroke-width="0.35" >E2</text>
<text x="177.8" y="449" font-size="13.2" text-anchor="middle" fill="#000" textLength="16.7" lengthAdjust="spacingAndGlyphs" stroke="#000" stroke-width="0.35" >E3</text>
<text x="255.3" y="449" font-size="13.2" text-anchor="middle" fill="#000" textLength="21" lengthAdjust="spacingAndGlyphs" stroke="#000" stroke-width="0.35" >AI1</text>
<text x="334.5" y="449" font-size="13.2" text-anchor="middle" fill="#000" textLength="21.4" lengthAdjust="spacingAndGlyphs" stroke="#000" stroke-width="0.35" >AI2</text>
<line x1="102" y1="453.5" x2="102" y2="459" stroke="#333" stroke-width="1.2"/>
<line x1="177.8" y1="453.5" x2="177.8" y2="459" stroke="#333" stroke-width="1.2"/>
<line x1="254" y1="453.5" x2="254" y2="459" stroke="#333" stroke-width="1.2"/>
<line x1="332.9" y1="453.5" x2="332.9" y2="459" stroke="#333" stroke-width="1.2"/>
<rect x="56.9" y="459" width="79.5" height="66" fill="#64aa4c"/>
<rect x="136.4" y="459" width="79.69999999999999" height="66" fill="#7ab962"/>
<rect x="216.1" y="459" width="79.50000000000003" height="66" fill="#abd49b"/>
<rect x="295.6" y="459" width="79.19999999999999" height="66" fill="#98cb86"/>
<rect x="136.4" y="525" width="79.69999999999999" height="65.79999999999995" fill="#58a438"/>
<rect x="216.1" y="525" width="79.50000000000003" height="65.79999999999995" fill="#d3e9c8"/>
<rect x="295.6" y="525" width="79.19999999999999" height="65.79999999999995" fill="#a5d195"/>
<rect x="216.1" y="590.8" width="79.50000000000003" height="65.5" fill="#dcedd3"/>
<rect x="295.6" y="590.8" width="79.19999999999999" height="65.5" fill="#93c880"/>
<line x1="56.9" y1="459" x2="56.9" y2="656.3" stroke="#1c1c1c" stroke-width="1.4"/>
<line x1="136.4" y1="459" x2="136.4" y2="656.3" stroke="#1c1c1c" stroke-width="1.4"/>
<line x1="216.1" y1="459" x2="216.1" y2="656.3" stroke="#1c1c1c" stroke-width="1.4"/>
<line x1="295.6" y1="459" x2="295.6" y2="656.3" stroke="#1c1c1c" stroke-width="1.4"/>
<line x1="374.8" y1="459" x2="374.8" y2="656.3" stroke="#1c1c1c" stroke-width="1.4"/>
<line x1="56.199999999999996" y1="459" x2="375.5" y2="459" stroke="#1c1c1c" stroke-width="1.4"/>
<line x1="56.199999999999996" y1="525" x2="375.5" y2="525" stroke="#1c1c1c" stroke-width="1.4"/>
<line x1="56.199999999999996" y1="590.8" x2="375.5" y2="590.8" stroke="#1c1c1c" stroke-width="1.4"/>
<line x1="56.199999999999996" y1="656.3" x2="375.5" y2="656.3" stroke="#1c1c1c" stroke-width="1.4"/>
<text x="96.65" y="498.5" font-size="17.6" text-anchor="middle" fill="#fff" textLength="43.6" lengthAdjust="spacingAndGlyphs" stroke="#fff" stroke-width="0.75" >0.866</text>
<text x="176.25" y="498.5" font-size="17.6" text-anchor="middle" fill="#fff" textLength="43.6" lengthAdjust="spacingAndGlyphs" stroke="#fff" stroke-width="0.75" >0.850</text>
<text x="255.85000000000002" y="498.5" font-size="17.6" text-anchor="middle" fill="#000" textLength="43.6" lengthAdjust="spacingAndGlyphs" stroke="#000" stroke-width="0.75" >0.820</text>
<text x="335.20000000000005" y="498.5" font-size="17.6" text-anchor="middle" fill="#000" textLength="43.6" lengthAdjust="spacingAndGlyphs" stroke="#000" stroke-width="0.75" >0.833</text>
<text x="176.25" y="564.5999999999999" font-size="17.6" text-anchor="middle" fill="#fff" textLength="43.6" lengthAdjust="spacingAndGlyphs" stroke="#fff" stroke-width="0.75" >0.867</text>
<text x="255.85000000000002" y="564.5999999999999" font-size="17.6" text-anchor="middle" fill="#000" textLength="43.6" lengthAdjust="spacingAndGlyphs" stroke="#000" stroke-width="0.75" >0.785</text>
<text x="335.20000000000005" y="564.5999999999999" font-size="17.6" text-anchor="middle" fill="#000" textLength="43.6" lengthAdjust="spacingAndGlyphs" stroke="#000" stroke-width="0.75" >0.824</text>
<text x="255.85000000000002" y="630.8" font-size="17.6" text-anchor="middle" fill="#000" textLength="43.6" lengthAdjust="spacingAndGlyphs" stroke="#000" stroke-width="0.75" >0.780</text>
<text x="335.20000000000005" y="630.8" font-size="17.6" text-anchor="middle" fill="#000" textLength="43.6" lengthAdjust="spacingAndGlyphs" stroke="#000" stroke-width="0.75" >0.838</text>
<line x1="51.2" y1="492.9" x2="56.5" y2="492.9" stroke="#333" stroke-width="1.2"/>
<text x="45.0" y="496.9" font-size="13.2" text-anchor="end" fill="#000" textLength="16.3" lengthAdjust="spacingAndGlyphs" stroke="#000" stroke-width="0.35" >E1</text>
<line x1="51.2" y1="567" x2="56.5" y2="567" stroke="#333" stroke-width="1.2"/>
<text x="45.0" y="574.2" font-size="13.2" text-anchor="end" fill="#000" textLength="16.3" lengthAdjust="spacingAndGlyphs" stroke="#000" stroke-width="0.35" >E2</text>
<line x1="51.2" y1="636.7" x2="56.5" y2="636.7" stroke="#333" stroke-width="1.2"/>
<text x="45.0" y="642.2" font-size="13.2" text-anchor="end" fill="#000" textLength="16.3" lengthAdjust="spacingAndGlyphs" stroke="#000" stroke-width="0.35" >E3</text>
<text x="0" y="0" font-size="14.8" text-anchor="middle" transform="translate(16.2,566.7) rotate(-90)" textLength="85.5" lengthAdjust="spacingAndGlyphs" stroke="#000" stroke-width="0.3">Annotator 1</text>
<text x="405.2" y="390.2" font-size="17.4" text-anchor="start" fill="#000" >C</text>
<text x="449" y="403.5" font-size="13.8" text-anchor="start" fill="#000" textLength="272.6" lengthAdjust="spacingAndGlyphs" stroke="#000" stroke-width="0.3" >Inter-Rater DSC Grouped by Experts/AIs</text>
<path d="M448.7 451.4 V647.2 H762" fill="none" stroke="#000" stroke-width="1.6"/>
<line x1="445.2" y1="637.8" x2="448.7" y2="637.8" stroke="#000" stroke-width="1.3"/>
<text x="442" y="642.1999999999999" font-size="12.2" text-anchor="end" fill="#000" textLength="20.4" lengthAdjust="spacingAndGlyphs" stroke="#000" stroke-width="0.4" >0.0</text>
<line x1="445.2" y1="600.5" x2="448.7" y2="600.5" stroke="#000" stroke-width="1.3"/>
<text x="442" y="604.92" font-size="12.2" text-anchor="end" fill="#000" textLength="20.4" lengthAdjust="spacingAndGlyphs" stroke="#000" stroke-width="0.4" >0.2</text>
<line x1="445.2" y1="563.2" x2="448.7" y2="563.2" stroke="#000" stroke-width="1.3"/>
<text x="442" y="567.64" font-size="12.2" text-anchor="end" fill="#000" textLength="20.4" lengthAdjust="spacingAndGlyphs" stroke="#000" stroke-width="0.4" >0.4</text>
<line x1="445.2" y1="526.0" x2="448.7" y2="526.0" stroke="#000" stroke-width="1.3"/>
<text x="442" y="530.3599999999999" font-size="12.2" text-anchor="end" fill="#000" textLength="20.4" lengthAdjust="spacingAndGlyphs" stroke="#000" stroke-width="0.4" >0.6</text>
<line x1="445.2" y1="488.7" x2="448.7" y2="488.7" stroke="#000" stroke-width="1.3"/>
<text x="442" y="493.0799999999999" font-size="12.2" text-anchor="end" fill="#000" textLength="20.4" lengthAdjust="spacingAndGlyphs" stroke="#000" stroke-width="0.4" >0.8</text>
<line x1="445.2" y1="451.4" x2="448.7" y2="451.4" stroke="#000" stroke-width="1.3"/>
<text x="442" y="455.79999999999995" font-size="12.2" text-anchor="end" fill="#000" textLength="20.4" lengthAdjust="spacingAndGlyphs" stroke="#000" stroke-width="0.4" >1.0</text>
<line x1="501.6" y1="647.2" x2="501.6" y2="650.5" stroke="#000" stroke-width="1.2"/>
<text x="501.6" y="667.2" font-size="12.6" text-anchor="middle" fill="#000" textLength="51.1" lengthAdjust="spacingAndGlyphs" stroke="#000" stroke-width="0.35" >Experts</text>
<line x1="606.7" y1="647.2" x2="606.7" y2="650.5" stroke="#000" stroke-width="1.2"/>
<text x="604" y="668.4" font-size="12.6" text-anchor="middle" fill="#000" textLength="19.9" lengthAdjust="spacingAndGlyphs" stroke="#000" stroke-width="0.35" >AI1</text>
<line x1="711.3" y1="647.2" x2="711.3" y2="650.5" stroke="#000" stroke-width="1.2"/>
<text x="711.3" y="668.4" font-size="12.6" text-anchor="middle" fill="#000" textLength="21.2" lengthAdjust="spacingAndGlyphs" stroke="#000" stroke-width="0.35" >AI2</text>
<g stroke="#606060" stroke-width="1.4" fill="none"><line x1="501.4" y1="457.8" x2="501.4" y2="468.5"/><line x1="501.4" y1="489.9" x2="501.4" y2="508.4"/><line x1="490.4" y1="457.8" x2="512.4" y2="457.8"/><line x1="490.4" y1="508.4" x2="512.4" y2="508.4"/><rect x="480.09999999999997" y="468.5" width="42.6" height="21.399999999999977" fill="#b2b2b2"/><line x1="480.09999999999997" y1="476.7" x2="522.6999999999999" y2="476.7"/></g>
<g stroke="#606060" stroke-width="1.4" fill="none"><line x1="606.4" y1="457.5" x2="606.4" y2="475.1"/><line x1="606.4" y1="514.3" x2="606.4" y2="551.4"/><line x1="595.4" y1="457.5" x2="617.4" y2="457.5"/><line x1="595.4" y1="551.4" x2="617.4" y2="551.4"/><rect x="585.1" y="475.1" width="42.6" height="39.19999999999993" fill="#b2b2b2"/><line x1="585.1" y1="490.2" x2="627.6999999999999" y2="490.2"/></g>
<g stroke="#606060" stroke-width="1.4" fill="none"><line x1="711.5" y1="457.5" x2="711.5" y2="469.3"/><line x1="711.5" y1="502.5" x2="711.5" y2="534.7"/><line x1="700.5" y1="457.5" x2="722.5" y2="457.5"/><line x1="700.5" y1="534.7" x2="722.5" y2="534.7"/><rect x="690.2" y="469.3" width="42.6" height="33.19999999999999" fill="#b2b2b2"/><line x1="690.2" y1="482.1" x2="732.8" y2="482.1"/></g>
<g fill="#1175c2" fill-opacity="0.95"><circle cx="508.2" cy="458.3" r="1.8"/><circle cx="511.7" cy="459.5" r="1.8"/><circle cx="503.2" cy="460.2" r="1.8"/><circle cx="495.8" cy="461.1" r="1.8"/><circle cx="507.3" cy="461.3" r="1.8"/><circle cx="498.5" cy="462.0" r="1.8"/><circle cx="508.3" cy="463.5" r="1.8"/><circle cx="497.7" cy="463.7" r="1.8"/><circle cx="503.0" cy="464.4" r="1.8"/><circle cx="508.1" cy="465.2" r="1.8"/><circle cx="490.3" cy="466.3" r="1.8"/><circle cx="497.5" cy="466.7" r="1.8"/><circle cx="499.1" cy="467.7" r="1.8"/><circle cx="496.7" cy="468.7" r="1.8"/><circle cx="511.0" cy="469.3" r="1.8"/><circle cx="491.5" cy="469.6" r="1.8"/><circle cx="500.2" cy="470.3" r="1.8"/><circle cx="497.0" cy="470.5" r="1.8"/><circle cx="493.0" cy="471.2" r="1.8"/><circle cx="492.6" cy="471.5" r="1.8"/><circle cx="510.4" cy="472.1" r="1.8"/><circle cx="498.4" cy="472.3" r="1.8"/><circle cx="511.1" cy="472.8" r="1.8"/><circle cx="498.5" cy="473.3" r="1.8"/><circle cx="497.6" cy="473.5" r="1.8"/><circle cx="494.1" cy="474.0" r="1.8"/><circle cx="491.7" cy="474.6" r="1.8"/><circle cx="490.1" cy="474.8" r="1.8"/><circle cx="507.5" cy="475.4" r="1.8"/><circle cx="510.4" cy="475.7" r="1.8"/><circle cx="511.6" cy="476.2" r="1.8"/><circle cx="506.5" cy="476.9" r="1.8"/><circle cx="510.2" cy="477.6" r="1.8"/><circle cx="503.7" cy="478.6" r="1.8"/><circle cx="500.9" cy="479.6" r="1.8"/><circle cx="511.7" cy="480.0" r="1.8"/><circle cx="502.6" cy="481.4" r="1.8"/><circle cx="494.0" cy="481.7" r="1.8"/><circle cx="503.1" cy="482.8" r="1.8"/><circle cx="510.0" cy="484.1" r="1.8"/><circle cx="507.2" cy="485.1" r="1.8"/><circle cx="502.0" cy="485.6" r="1.8"/><circle cx="506.8" cy="486.3" r="1.8"/><circle cx="496.3" cy="487.6" r="1.8"/><circle cx="505.5" cy="488.2" r="1.8"/><circle cx="503.9" cy="489.8" r="1.8"/><circle cx="491.3" cy="490.5" r="1.8"/><circle cx="511.6" cy="491.5" r="1.8"/><circle cx="509.3" cy="493.2" r="1.8"/><circle cx="507.9" cy="494.0" r="1.8"/><circle cx="496.0" cy="500.8" r="1.8"/><circle cx="507.8" cy="506.3" r="1.8"/><circle cx="498.1" cy="528.9" r="1.8"/><circle cx="491.2" cy="533.1" r="1.8"/><circle cx="510.6" cy="539.9" r="1.8"/><circle cx="506.2" cy="544.1" r="1.8"/><circle cx="495.9" cy="560.0" r="1.8"/><circle cx="500.6" cy="593.8" r="1.8"/><circle cx="494.1" cy="630.5" r="1.8"/><circle cx="510.3" cy="637.4" r="1.8"/><circle cx="497.5" cy="637.4" r="1.8"/><circle cx="509.3" cy="459.7" r="1.8"/><circle cx="499.5" cy="460.7" r="1.8"/><circle cx="503.2" cy="461.1" r="1.8"/><circle cx="496.1" cy="461.6" r="1.8"/><circle cx="490.7" cy="462.4" r="1.8"/><circle cx="490.6" cy="463.1" r="1.8"/><circle cx="493.9" cy="463.7" r="1.8"/><circle cx="499.0" cy="464.5" r="1.8"/><circle cx="491.6" cy="465.4" r="1.8"/><circle cx="500.9" cy="466.2" r="1.8"/><circle cx="495.4" cy="467.0" r="1.8"/><circle cx="496.1" cy="467.7" r="1.8"/><circle cx="498.8" cy="468.2" r="1.8"/><circle cx="496.5" cy="469.4" r="1.8"/><circle cx="500.5" cy="470.3" r="1.8"/><circle cx="503.2" cy="470.6" r="1.8"/><circle cx="502.6" cy="471.2" r="1.8"/><circle cx="490.0" cy="471.5" r="1.8"/><circle cx="493.2" cy="472.4" r="1.8"/><circle cx="491.8" cy="472.6" r="1.8"/><circle cx="501.5" cy="473.2" r="1.8"/><circle cx="500.9" cy="473.8" r="1.8"/><circle cx="497.7" cy="474.4" r="1.8"/><circle cx="499.4" cy="474.9" r="1.8"/><circle cx="493.3" cy="475.8" r="1.8"/><circle cx="498.4" cy="476.3" r="1.8"/><circle cx="503.2" cy="476.8" r="1.8"/><circle cx="509.2" cy="477.3" r="1.8"/><circle cx="500.9" cy="478.0" r="1.8"/><circle cx="505.9" cy="478.2" r="1.8"/><circle cx="491.1" cy="478.8" r="1.8"/><circle cx="507.0" cy="479.8" r="1.8"/><circle cx="501.7" cy="480.2" r="1.8"/><circle cx="502.5" cy="480.6" r="1.8"/><circle cx="508.0" cy="481.2" r="1.8"/><circle cx="506.6" cy="481.3" r="1.8"/><circle cx="498.0" cy="482.1" r="1.8"/><circle cx="498.8" cy="482.6" r="1.8"/><circle cx="511.8" cy="483.1" r="1.8"/><circle cx="506.4" cy="483.6" r="1.8"/><circle cx="511.6" cy="483.8" r="1.8"/><circle cx="501.2" cy="484.4" r="1.8"/><circle cx="507.3" cy="484.8" r="1.8"/><circle cx="504.2" cy="485.2" r="1.8"/><circle cx="502.8" cy="485.6" r="1.8"/><circle cx="504.2" cy="486.2" r="1.8"/><circle cx="505.3" cy="486.6" r="1.8"/><circle cx="497.9" cy="490.6" r="1.8"/><circle cx="496.2" cy="490.6" r="1.8"/><circle cx="509.0" cy="496.5" r="1.8"/><circle cx="506.5" cy="496.5" r="1.8"/><circle cx="498.2" cy="504.1" r="1.8"/><circle cx="501.1" cy="516.9" r="1.8"/><circle cx="511.8" cy="540.1" r="1.8"/><circle cx="507.5" cy="637.2" r="1.8"/><circle cx="512.0" cy="461.6" r="1.8"/><circle cx="510.9" cy="462.0" r="1.8"/><circle cx="494.9" cy="462.7" r="1.8"/><circle cx="501.9" cy="463.1" r="1.8"/><circle cx="510.0" cy="463.3" r="1.8"/><circle cx="511.4" cy="464.0" r="1.8"/><circle cx="512.6" cy="464.6" r="1.8"/><circle cx="496.2" cy="464.8" r="1.8"/><circle cx="497.7" cy="465.1" r="1.8"/><circle cx="504.9" cy="465.8" r="1.8"/><circle cx="496.0" cy="466.1" r="1.8"/><circle cx="492.3" cy="466.5" r="1.8"/><circle cx="501.6" cy="466.9" r="1.8"/><circle cx="507.3" cy="467.6" r="1.8"/><circle cx="501.2" cy="467.8" r="1.8"/><circle cx="502.0" cy="468.3" r="1.8"/><circle cx="500.1" cy="468.9" r="1.8"/><circle cx="491.0" cy="469.4" r="1.8"/><circle cx="505.6" cy="470.1" r="1.8"/><circle cx="510.7" cy="470.2" r="1.8"/><circle cx="510.1" cy="470.9" r="1.8"/><circle cx="500.6" cy="471.4" r="1.8"/><circle cx="498.6" cy="471.9" r="1.8"/><circle cx="509.8" cy="472.5" r="1.8"/><circle cx="494.6" cy="472.8" r="1.8"/><circle cx="490.9" cy="473.3" r="1.8"/><circle cx="510.1" cy="474.0" r="1.8"/><circle cx="498.4" cy="474.2" r="1.8"/><circle cx="497.6" cy="474.8" r="1.8"/><circle cx="498.2" cy="475.3" r="1.8"/><circle cx="493.8" cy="476.0" r="1.8"/><circle cx="512.0" cy="476.3" r="1.8"/><circle cx="502.5" cy="477.6" r="1.8"/><circle cx="512.1" cy="477.8" r="1.8"/><circle cx="499.0" cy="479.3" r="1.8"/><circle cx="503.5" cy="479.6" r="1.8"/><circle cx="503.5" cy="481.0" r="1.8"/><circle cx="490.2" cy="481.5" r="1.8"/><circle cx="506.1" cy="482.1" r="1.8"/><circle cx="492.7" cy="482.9" r="1.8"/><circle cx="510.2" cy="483.8" r="1.8"/><circle cx="503.4" cy="484.8" r="1.8"/><circle cx="507.4" cy="485.4" r="1.8"/><circle cx="508.5" cy="486.5" r="1.8"/><circle cx="493.4" cy="487.6" r="1.8"/><circle cx="492.0" cy="488.1" r="1.8"/><circle cx="502.8" cy="489.0" r="1.8"/><circle cx="508.4" cy="491.8" r="1.8"/><circle cx="490.7" cy="492.5" r="1.8"/><circle cx="505.0" cy="496.8" r="1.8"/><circle cx="495.1" cy="495.3" r="1.8"/><circle cx="501.1" cy="501.7" r="1.8"/><circle cx="499.4" cy="504.6" r="1.8"/><circle cx="495.4" cy="506.7" r="1.8"/><circle cx="511.0" cy="508.1" r="1.8"/><circle cx="503.1" cy="509.6" r="1.8"/><circle cx="496.3" cy="510.3" r="1.8"/><circle cx="491.1" cy="519.5" r="1.8"/><circle cx="508.7" cy="537.3" r="1.8"/><circle cx="509.9" cy="545.7" r="1.8"/><circle cx="492.0" cy="559.9" r="1.8"/><circle cx="492.8" cy="570.7" r="1.8"/><circle cx="504.5" cy="598.9" r="1.8"/><circle cx="495.4" cy="637.7" r="1.8"/><circle cx="508.1" cy="637.7" r="1.8"/><circle cx="507.2" cy="458.3" r="1.8"/><circle cx="490.4" cy="459.1" r="1.8"/><circle cx="497.5" cy="459.7" r="1.8"/><circle cx="495.7" cy="460.3" r="1.8"/><circle cx="490.9" cy="461.2" r="1.8"/><circle cx="497.1" cy="462.4" r="1.8"/><circle cx="501.7" cy="463.0" r="1.8"/><circle cx="506.7" cy="463.4" r="1.8"/><circle cx="490.3" cy="464.2" r="1.8"/><circle cx="504.5" cy="465.0" r="1.8"/><circle cx="507.5" cy="465.5" r="1.8"/><circle cx="504.2" cy="466.4" r="1.8"/><circle cx="500.2" cy="467.7" r="1.8"/><circle cx="507.0" cy="468.2" r="1.8"/><circle cx="512.7" cy="468.6" r="1.8"/><circle cx="496.0" cy="469.2" r="1.8"/><circle cx="504.3" cy="470.1" r="1.8"/><circle cx="509.6" cy="470.3" r="1.8"/><circle cx="505.2" cy="471.3" r="1.8"/><circle cx="492.8" cy="472.0" r="1.8"/><circle cx="507.5" cy="472.6" r="1.8"/><circle cx="494.6" cy="472.9" r="1.8"/><circle cx="494.8" cy="473.5" r="1.8"/><circle cx="505.3" cy="474.1" r="1.8"/><circle cx="501.0" cy="474.8" r="1.8"/><circle cx="510.6" cy="475.1" r="1.8"/><circle cx="490.7" cy="475.8" r="1.8"/><circle cx="490.2" cy="476.3" r="1.8"/><circle cx="511.5" cy="477.0" r="1.8"/><circle cx="495.6" cy="478.8" r="1.8"/><circle cx="504.6" cy="479.4" r="1.8"/><circle cx="509.9" cy="481.0" r="1.8"/><circle cx="505.6" cy="481.9" r="1.8"/><circle cx="503.4" cy="482.4" r="1.8"/><circle cx="500.7" cy="483.8" r="1.8"/><circle cx="501.9" cy="485.2" r="1.8"/><circle cx="493.7" cy="486.6" r="1.8"/><circle cx="510.1" cy="487.0" r="1.8"/><circle cx="507.1" cy="488.5" r="1.8"/><circle cx="494.1" cy="489.7" r="1.8"/></g>
<g fill="#606060"><path d="M501.4 507.3 l1.7 3 l-1.7 3 l-1.7 -3z"/><path d="M501.4 513.9 l1.7 3 l-1.7 3 l-1.7 -3z"/><path d="M501.4 516.5 l1.7 3 l-1.7 3 l-1.7 -3z"/><path d="M501.4 525.9 l1.7 3 l-1.7 3 l-1.7 -3z"/><path d="M501.4 530.1 l1.7 3 l-1.7 3 l-1.7 -3z"/><path d="M501.4 534.3 l1.7 3 l-1.7 3 l-1.7 -3z"/><path d="M501.4 536.9 l1.7 3 l-1.7 3 l-1.7 -3z"/><path d="M501.4 537.1 l1.7 3 l-1.7 3 l-1.7 -3z"/><path d="M501.4 541.1 l1.7 3 l-1.7 3 l-1.7 -3z"/><path d="M501.4 542.7 l1.7 3 l-1.7 3 l-1.7 -3z"/><path d="M501.4 556.9 l1.7 3 l-1.7 3 l-1.7 -3z"/><path d="M501.4 557.0 l1.7 3 l-1.7 3 l-1.7 -3z"/><path d="M501.4 567.7 l1.7 3 l-1.7 3 l-1.7 -3z"/><path d="M501.4 590.8 l1.7 3 l-1.7 3 l-1.7 -3z"/><path d="M501.4 595.9 l1.7 3 l-1.7 3 l-1.7 -3z"/><path d="M501.4 627.5 l1.7 3 l-1.7 3 l-1.7 -3z"/><path d="M501.4 634.2 l1.7 3 l-1.7 3 l-1.7 -3z"/><path d="M501.4 634.4 l1.7 3 l-1.7 3 l-1.7 -3z"/><path d="M501.4 634.7 l1.7 3 l-1.7 3 l-1.7 -3z"/></g>
<g fill="#ff7f0e" fill-opacity="0.95"><circle cx="609.6" cy="462.4" r="1.8"/><circle cx="609.4" cy="463.1" r="1.8"/><circle cx="600.4" cy="463.6" r="1.8"/><circle cx="613.5" cy="464.8" r="1.8"/><circle cx="602.6" cy="465.5" r="1.8"/><circle cx="603.3" cy="466.9" r="1.8"/><circle cx="611.4" cy="467.0" r="1.8"/><circle cx="603.0" cy="468.6" r="1.8"/><circle cx="616.7" cy="469.0" r="1.8"/><circle cx="605.5" cy="469.8" r="1.8"/><circle cx="603.5" cy="470.7" r="1.8"/><circle cx="595.4" cy="472.1" r="1.8"/><circle cx="612.3" cy="472.7" r="1.8"/><circle cx="599.8" cy="473.8" r="1.8"/><circle cx="605.4" cy="474.4" r="1.8"/><circle cx="610.4" cy="475.4" r="1.8"/><circle cx="605.6" cy="476.1" r="1.8"/><circle cx="616.8" cy="476.4" r="1.8"/><circle cx="604.0" cy="477.0" r="1.8"/><circle cx="603.1" cy="478.0" r="1.8"/><circle cx="597.3" cy="478.4" r="1.8"/><circle cx="595.6" cy="478.9" r="1.8"/><circle cx="597.6" cy="479.4" r="1.8"/><circle cx="608.1" cy="480.1" r="1.8"/><circle cx="597.6" cy="481.1" r="1.8"/><circle cx="606.4" cy="481.6" r="1.8"/><circle cx="598.3" cy="481.8" r="1.8"/><circle cx="613.2" cy="482.9" r="1.8"/><circle cx="595.7" cy="483.3" r="1.8"/><circle cx="612.7" cy="484.0" r="1.8"/><circle cx="616.4" cy="484.5" r="1.8"/><circle cx="616.7" cy="485.3" r="1.8"/><circle cx="605.6" cy="486.6" r="1.8"/><circle cx="613.5" cy="487.4" r="1.8"/><circle cx="598.8" cy="488.7" r="1.8"/><circle cx="617.0" cy="491.1" r="1.8"/><circle cx="617.4" cy="492.0" r="1.8"/><circle cx="611.4" cy="492.9" r="1.8"/><circle cx="617.2" cy="494.6" r="1.8"/><circle cx="609.3" cy="495.7" r="1.8"/><circle cx="617.2" cy="496.9" r="1.8"/><circle cx="603.8" cy="498.6" r="1.8"/><circle cx="596.8" cy="500.0" r="1.8"/><circle cx="599.7" cy="501.1" r="1.8"/><circle cx="614.8" cy="502.1" r="1.8"/><circle cx="614.3" cy="503.2" r="1.8"/><circle cx="603.7" cy="505.3" r="1.8"/><circle cx="611.3" cy="504.1" r="1.8"/><circle cx="615.6" cy="502.9" r="1.8"/><circle cx="602.9" cy="508.3" r="1.8"/><circle cx="601.1" cy="512.0" r="1.8"/><circle cx="617.6" cy="514.0" r="1.8"/><circle cx="603.4" cy="518.9" r="1.8"/><circle cx="616.2" cy="534.6" r="1.8"/><circle cx="600.7" cy="571.3" r="1.8"/><circle cx="617.0" cy="606.0" r="1.8"/><circle cx="595.8" cy="628.6" r="1.8"/><circle cx="603.0" cy="633.2" r="1.8"/><circle cx="605.0" cy="637.4" r="1.8"/><circle cx="596.1" cy="637.4" r="1.8"/><circle cx="613.6" cy="637.4" r="1.8"/><circle cx="616.5" cy="459.2" r="1.8"/><circle cx="604.4" cy="460.1" r="1.8"/><circle cx="610.9" cy="460.8" r="1.8"/><circle cx="601.0" cy="462.4" r="1.8"/><circle cx="601.9" cy="462.9" r="1.8"/><circle cx="610.3" cy="463.9" r="1.8"/><circle cx="606.7" cy="465.3" r="1.8"/><circle cx="597.2" cy="467.0" r="1.8"/><circle cx="617.7" cy="467.6" r="1.8"/><circle cx="617.7" cy="469.0" r="1.8"/><circle cx="609.0" cy="469.9" r="1.8"/><circle cx="616.1" cy="471.2" r="1.8"/><circle cx="602.6" cy="471.9" r="1.8"/><circle cx="604.8" cy="472.9" r="1.8"/><circle cx="609.5" cy="474.8" r="1.8"/><circle cx="596.6" cy="475.3" r="1.8"/><circle cx="595.9" cy="477.0" r="1.8"/><circle cx="606.7" cy="478.1" r="1.8"/><circle cx="599.4" cy="478.9" r="1.8"/><circle cx="612.2" cy="479.8" r="1.8"/><circle cx="609.5" cy="480.6" r="1.8"/><circle cx="604.3" cy="482.0" r="1.8"/><circle cx="606.1" cy="482.3" r="1.8"/><circle cx="610.8" cy="483.1" r="1.8"/><circle cx="597.9" cy="484.3" r="1.8"/><circle cx="612.7" cy="485.7" r="1.8"/><circle cx="614.0" cy="486.3" r="1.8"/><circle cx="599.6" cy="487.9" r="1.8"/><circle cx="597.9" cy="488.2" r="1.8"/><circle cx="612.2" cy="489.9" r="1.8"/><circle cx="610.0" cy="490.7" r="1.8"/><circle cx="613.2" cy="492.5" r="1.8"/><circle cx="617.9" cy="494.6" r="1.8"/><circle cx="611.4" cy="496.4" r="1.8"/><circle cx="616.2" cy="498.3" r="1.8"/><circle cx="599.7" cy="499.5" r="1.8"/><circle cx="604.1" cy="501.5" r="1.8"/><circle cx="615.3" cy="504.0" r="1.8"/><circle cx="611.3" cy="505.0" r="1.8"/><circle cx="609.7" cy="506.1" r="1.8"/><circle cx="604.0" cy="508.9" r="1.8"/><circle cx="600.3" cy="510.8" r="1.8"/><circle cx="614.8" cy="512.6" r="1.8"/><circle cx="596.0" cy="514.6" r="1.8"/><circle cx="615.5" cy="515.2" r="1.8"/><circle cx="614.2" cy="517.5" r="1.8"/><circle cx="616.6" cy="519.5" r="1.8"/><circle cx="595.7" cy="516.0" r="1.8"/><circle cx="607.3" cy="520.2" r="1.8"/><circle cx="611.6" cy="528.8" r="1.8"/><circle cx="604.2" cy="533.0" r="1.8"/><circle cx="616.8" cy="543.1" r="1.8"/><circle cx="610.3" cy="551.1" r="1.8"/><circle cx="614.1" cy="554.6" r="1.8"/><circle cx="595.9" cy="558.7" r="1.8"/><circle cx="616.8" cy="570.1" r="1.8"/><circle cx="599.0" cy="575.5" r="1.8"/><circle cx="602.1" cy="591.7" r="1.8"/><circle cx="603.7" cy="606.0" r="1.8"/><circle cx="612.4" cy="627.4" r="1.8"/><circle cx="597.1" cy="635.9" r="1.8"/><circle cx="605.0" cy="637.5" r="1.8"/><circle cx="614.6" cy="637.5" r="1.8"/><circle cx="608.3" cy="463.2" r="1.8"/><circle cx="602.3" cy="464.1" r="1.8"/><circle cx="607.9" cy="464.6" r="1.8"/><circle cx="598.5" cy="465.5" r="1.8"/><circle cx="596.8" cy="466.4" r="1.8"/><circle cx="605.2" cy="467.2" r="1.8"/><circle cx="600.5" cy="468.3" r="1.8"/><circle cx="607.7" cy="469.3" r="1.8"/><circle cx="597.5" cy="470.2" r="1.8"/><circle cx="598.9" cy="471.6" r="1.8"/><circle cx="611.0" cy="472.6" r="1.8"/><circle cx="613.1" cy="473.5" r="1.8"/><circle cx="598.1" cy="474.0" r="1.8"/><circle cx="614.0" cy="475.3" r="1.8"/><circle cx="612.4" cy="475.9" r="1.8"/><circle cx="610.9" cy="477.1" r="1.8"/><circle cx="607.6" cy="478.1" r="1.8"/><circle cx="597.5" cy="479.2" r="1.8"/><circle cx="601.6" cy="479.6" r="1.8"/><circle cx="595.5" cy="480.6" r="1.8"/><circle cx="614.7" cy="481.7" r="1.8"/><circle cx="614.6" cy="482.6" r="1.8"/><circle cx="596.5" cy="484.0" r="1.8"/><circle cx="614.8" cy="484.9" r="1.8"/><circle cx="600.2" cy="485.1" r="1.8"/><circle cx="617.1" cy="486.2" r="1.8"/><circle cx="610.9" cy="487.0" r="1.8"/><circle cx="603.2" cy="488.3" r="1.8"/><circle cx="606.4" cy="489.7" r="1.8"/><circle cx="609.5" cy="490.3" r="1.8"/><circle cx="606.2" cy="490.9" r="1.8"/><circle cx="607.8" cy="492.9" r="1.8"/><circle cx="613.5" cy="494.2" r="1.8"/><circle cx="596.5" cy="495.4" r="1.8"/><circle cx="603.1" cy="496.9" r="1.8"/><circle cx="616.5" cy="498.3" r="1.8"/><circle cx="610.6" cy="500.2" r="1.8"/><circle cx="605.4" cy="500.6" r="1.8"/><circle cx="594.9" cy="502.3" r="1.8"/><circle cx="613.2" cy="504.3" r="1.8"/><circle cx="602.9" cy="505.2" r="1.8"/><circle cx="606.4" cy="507.2" r="1.8"/><circle cx="600.2" cy="507.7" r="1.8"/><circle cx="599.2" cy="510.1" r="1.8"/><circle cx="617.1" cy="510.4" r="1.8"/><circle cx="601.4" cy="512.7" r="1.8"/><circle cx="613.7" cy="513.4" r="1.8"/><circle cx="597.2" cy="514.1" r="1.8"/><circle cx="613.4" cy="518.3" r="1.8"/><circle cx="611.8" cy="520.9" r="1.8"/><circle cx="609.6" cy="522.0" r="1.8"/><circle cx="605.5" cy="532.3" r="1.8"/><circle cx="601.1" cy="532.3" r="1.8"/><circle cx="597.2" cy="539.8" r="1.8"/><circle cx="608.3" cy="556.0" r="1.8"/><circle cx="616.0" cy="570.3" r="1.8"/><circle cx="606.1" cy="606.7" r="1.8"/><circle cx="610.6" cy="626.3" r="1.8"/><circle cx="601.0" cy="632.5" r="1.8"/><circle cx="607.2" cy="637.3" r="1.8"/><circle cx="614.0" cy="636.1" r="1.8"/><circle cx="616.3" cy="637.5" r="1.8"/><circle cx="605.9" cy="637.5" r="1.8"/><circle cx="611.0" cy="458.5" r="1.8"/><circle cx="609.4" cy="459.1" r="1.8"/><circle cx="595.3" cy="461.0" r="1.8"/><circle cx="597.7" cy="462.2" r="1.8"/><circle cx="603.1" cy="463.4" r="1.8"/><circle cx="602.4" cy="463.9" r="1.8"/><circle cx="608.4" cy="465.9" r="1.8"/><circle cx="611.5" cy="466.8" r="1.8"/><circle cx="615.2" cy="468.2" r="1.8"/><circle cx="595.8" cy="469.2" r="1.8"/><circle cx="598.7" cy="470.2" r="1.8"/><circle cx="599.7" cy="472.1" r="1.8"/><circle cx="596.0" cy="472.9" r="1.8"/><circle cx="598.7" cy="474.2" r="1.8"/><circle cx="602.1" cy="476.0" r="1.8"/><circle cx="613.6" cy="477.2" r="1.8"/><circle cx="596.2" cy="477.5" r="1.8"/><circle cx="604.7" cy="478.9" r="1.8"/><circle cx="598.7" cy="479.6" r="1.8"/><circle cx="615.8" cy="481.0" r="1.8"/><circle cx="598.7" cy="481.9" r="1.8"/><circle cx="601.7" cy="483.3" r="1.8"/><circle cx="600.5" cy="483.8" r="1.8"/><circle cx="598.8" cy="485.1" r="1.8"/><circle cx="613.3" cy="486.2" r="1.8"/><circle cx="616.9" cy="487.2" r="1.8"/><circle cx="598.3" cy="488.7" r="1.8"/><circle cx="598.4" cy="490.0" r="1.8"/><circle cx="612.5" cy="491.3" r="1.8"/><circle cx="597.2" cy="493.6" r="1.8"/><circle cx="612.1" cy="494.8" r="1.8"/><circle cx="602.7" cy="497.4" r="1.8"/><circle cx="612.3" cy="500.0" r="1.8"/><circle cx="597.9" cy="500.9" r="1.8"/><circle cx="597.3" cy="502.3" r="1.8"/><circle cx="597.0" cy="504.7" r="1.8"/><circle cx="598.4" cy="507.5" r="1.8"/><circle cx="613.9" cy="509.7" r="1.8"/><circle cx="596.0" cy="511.1" r="1.8"/><circle cx="601.2" cy="514.1" r="1.8"/></g>
<g fill="#606060"><path d="M606.4 551.6 l1.7 3 l-1.7 3 l-1.7 -3z"/><path d="M606.4 553.0 l1.7 3 l-1.7 3 l-1.7 -3z"/><path d="M606.4 555.7 l1.7 3 l-1.7 3 l-1.7 -3z"/><path d="M606.4 567.1 l1.7 3 l-1.7 3 l-1.7 -3z"/><path d="M606.4 567.3 l1.7 3 l-1.7 3 l-1.7 -3z"/><path d="M606.4 568.3 l1.7 3 l-1.7 3 l-1.7 -3z"/><path d="M606.4 572.5 l1.7 3 l-1.7 3 l-1.7 -3z"/><path d="M606.4 588.7 l1.7 3 l-1.7 3 l-1.7 -3z"/><path d="M606.4 603.0 l1.7 3 l-1.7 3 l-1.7 -3z"/><path d="M606.4 603.7 l1.7 3 l-1.7 3 l-1.7 -3z"/><path d="M606.4 623.3 l1.7 3 l-1.7 3 l-1.7 -3z"/><path d="M606.4 624.4 l1.7 3 l-1.7 3 l-1.7 -3z"/><path d="M606.4 625.6 l1.7 3 l-1.7 3 l-1.7 -3z"/><path d="M606.4 629.5 l1.7 3 l-1.7 3 l-1.7 -3z"/><path d="M606.4 630.2 l1.7 3 l-1.7 3 l-1.7 -3z"/><path d="M606.4 632.9 l1.7 3 l-1.7 3 l-1.7 -3z"/><path d="M606.4 633.1 l1.7 3 l-1.7 3 l-1.7 -3z"/><path d="M606.4 634.3 l1.7 3 l-1.7 3 l-1.7 -3z"/><path d="M606.4 634.4 l1.7 3 l-1.7 3 l-1.7 -3z"/><path d="M606.4 634.5 l1.7 3 l-1.7 3 l-1.7 -3z"/></g>
<g fill="#22a022" fill-opacity="0.95"><circle cx="711.6" cy="458.5" r="1.8"/><circle cx="703.9" cy="458.8" r="1.8"/><circle cx="708.1" cy="460.2" r="1.8"/><circle cx="718.6" cy="461.0" r="1.8"/><circle cx="716.0" cy="461.3" r="1.8"/><circle cx="703.9" cy="462.2" r="1.8"/><circle cx="720.4" cy="463.3" r="1.8"/><circle cx="719.8" cy="464.1" r="1.8"/><circle cx="700.9" cy="464.7" r="1.8"/><circle cx="714.8" cy="465.4" r="1.8"/><circle cx="708.7" cy="466.0" r="1.8"/><circle cx="701.8" cy="467.4" r="1.8"/><circle cx="707.3" cy="467.9" r="1.8"/><circle cx="714.8" cy="468.9" r="1.8"/><circle cx="702.5" cy="469.3" r="1.8"/><circle cx="707.4" cy="470.3" r="1.8"/><circle cx="715.8" cy="471.2" r="1.8"/><circle cx="705.4" cy="471.8" r="1.8"/><circle cx="720.1" cy="472.4" r="1.8"/><circle cx="713.2" cy="473.2" r="1.8"/><circle cx="714.5" cy="474.5" r="1.8"/><circle cx="700.9" cy="474.7" r="1.8"/><circle cx="701.6" cy="475.5" r="1.8"/><circle cx="714.1" cy="476.9" r="1.8"/><circle cx="704.0" cy="477.6" r="1.8"/><circle cx="712.1" cy="478.0" r="1.8"/><circle cx="720.6" cy="479.0" r="1.8"/><circle cx="713.6" cy="479.6" r="1.8"/><circle cx="710.2" cy="480.5" r="1.8"/><circle cx="702.3" cy="481.3" r="1.8"/><circle cx="702.9" cy="482.0" r="1.8"/><circle cx="705.7" cy="482.9" r="1.8"/><circle cx="722.0" cy="483.4" r="1.8"/><circle cx="717.3" cy="485.1" r="1.8"/><circle cx="703.9" cy="486.2" r="1.8"/><circle cx="701.1" cy="487.3" r="1.8"/><circle cx="722.4" cy="488.3" r="1.8"/><circle cx="722.2" cy="488.6" r="1.8"/><circle cx="712.2" cy="489.8" r="1.8"/><circle cx="706.3" cy="491.2" r="1.8"/><circle cx="712.3" cy="492.3" r="1.8"/><circle cx="720.6" cy="493.5" r="1.8"/><circle cx="705.8" cy="493.7" r="1.8"/><circle cx="718.0" cy="495.1" r="1.8"/><circle cx="711.4" cy="496.2" r="1.8"/><circle cx="712.6" cy="497.0" r="1.8"/><circle cx="721.6" cy="498.7" r="1.8"/><circle cx="700.3" cy="497.5" r="1.8"/><circle cx="706.9" cy="498.9" r="1.8"/><circle cx="702.3" cy="498.0" r="1.8"/><circle cx="703.9" cy="501.6" r="1.8"/><circle cx="719.9" cy="502.4" r="1.8"/><circle cx="700.7" cy="505.6" r="1.8"/><circle cx="722.0" cy="510.1" r="1.8"/><circle cx="708.2" cy="511.3" r="1.8"/><circle cx="713.9" cy="527.7" r="1.8"/><circle cx="711.3" cy="532.0" r="1.8"/><circle cx="702.5" cy="547.0" r="1.8"/><circle cx="705.7" cy="637.2" r="1.8"/><circle cx="704.6" cy="637.5" r="1.8"/><circle cx="707.6" cy="459.9" r="1.8"/><circle cx="700.2" cy="460.8" r="1.8"/><circle cx="713.3" cy="461.1" r="1.8"/><circle cx="705.6" cy="461.4" r="1.8"/><circle cx="715.7" cy="462.3" r="1.8"/><circle cx="712.6" cy="462.7" r="1.8"/><circle cx="719.3" cy="463.4" r="1.8"/><circle cx="722.0" cy="463.7" r="1.8"/><circle cx="707.3" cy="464.4" r="1.8"/><circle cx="714.6" cy="465.0" r="1.8"/><circle cx="718.0" cy="465.3" r="1.8"/><circle cx="707.0" cy="465.7" r="1.8"/><circle cx="713.7" cy="466.3" r="1.8"/><circle cx="716.9" cy="466.9" r="1.8"/><circle cx="719.8" cy="467.7" r="1.8"/><circle cx="717.6" cy="468.5" r="1.8"/><circle cx="711.5" cy="469.3" r="1.8"/><circle cx="711.5" cy="470.9" r="1.8"/><circle cx="708.8" cy="472.0" r="1.8"/><circle cx="714.8" cy="473.1" r="1.8"/><circle cx="722.6" cy="473.6" r="1.8"/><circle cx="700.5" cy="475.1" r="1.8"/><circle cx="715.7" cy="476.6" r="1.8"/><circle cx="716.7" cy="477.8" r="1.8"/><circle cx="709.8" cy="478.5" r="1.8"/><circle cx="700.4" cy="479.4" r="1.8"/><circle cx="706.2" cy="481.0" r="1.8"/><circle cx="721.0" cy="481.5" r="1.8"/><circle cx="717.5" cy="482.9" r="1.8"/><circle cx="715.6" cy="483.9" r="1.8"/><circle cx="721.6" cy="485.2" r="1.8"/><circle cx="720.6" cy="486.5" r="1.8"/><circle cx="700.3" cy="486.6" r="1.8"/><circle cx="710.2" cy="488.4" r="1.8"/><circle cx="716.1" cy="489.3" r="1.8"/><circle cx="718.4" cy="490.1" r="1.8"/><circle cx="710.9" cy="491.5" r="1.8"/><circle cx="701.5" cy="492.8" r="1.8"/><circle cx="714.2" cy="493.8" r="1.8"/><circle cx="715.5" cy="494.9" r="1.8"/><circle cx="709.4" cy="495.4" r="1.8"/><circle cx="700.7" cy="496.5" r="1.8"/><circle cx="704.2" cy="498.1" r="1.8"/><circle cx="703.9" cy="498.6" r="1.8"/><circle cx="711.0" cy="499.3" r="1.8"/><circle cx="719.0" cy="500.4" r="1.8"/><circle cx="703.6" cy="501.7" r="1.8"/><circle cx="708.0" cy="505.5" r="1.8"/><circle cx="704.8" cy="506.3" r="1.8"/><circle cx="702.9" cy="508.6" r="1.8"/><circle cx="703.9" cy="511.3" r="1.8"/><circle cx="712.6" cy="514.8" r="1.8"/><circle cx="717.9" cy="523.8" r="1.8"/><circle cx="721.7" cy="524.1" r="1.8"/><circle cx="721.1" cy="534.2" r="1.8"/><circle cx="722.2" cy="537.7" r="1.8"/><circle cx="712.2" cy="545.8" r="1.8"/><circle cx="717.9" cy="579.9" r="1.8"/><circle cx="706.4" cy="582.1" r="1.8"/><circle cx="714.9" cy="586.5" r="1.8"/><circle cx="719.5" cy="612.3" r="1.8"/><circle cx="706.7" cy="621.6" r="1.8"/><circle cx="704.6" cy="637.9" r="1.8"/><circle cx="705.5" cy="637.9" r="1.8"/><circle cx="714.1" cy="463.0" r="1.8"/><circle cx="715.4" cy="463.9" r="1.8"/><circle cx="709.8" cy="464.1" r="1.8"/><circle cx="705.1" cy="464.5" r="1.8"/><circle cx="711.3" cy="465.0" r="1.8"/><circle cx="703.5" cy="465.5" r="1.8"/><circle cx="718.4" cy="466.4" r="1.8"/><circle cx="719.4" cy="466.5" r="1.8"/><circle cx="702.5" cy="467.5" r="1.8"/><circle cx="708.6" cy="467.8" r="1.8"/><circle cx="720.5" cy="468.3" r="1.8"/><circle cx="705.9" cy="468.9" r="1.8"/><circle cx="719.5" cy="469.2" r="1.8"/><circle cx="720.6" cy="469.9" r="1.8"/><circle cx="716.3" cy="470.5" r="1.8"/><circle cx="716.1" cy="471.0" r="1.8"/><circle cx="709.3" cy="471.9" r="1.8"/><circle cx="705.8" cy="472.2" r="1.8"/><circle cx="710.1" cy="473.2" r="1.8"/><circle cx="701.8" cy="473.5" r="1.8"/><circle cx="702.8" cy="474.1" r="1.8"/><circle cx="714.7" cy="475.1" r="1.8"/><circle cx="705.8" cy="475.9" r="1.8"/><circle cx="705.5" cy="476.4" r="1.8"/><circle cx="721.9" cy="476.7" r="1.8"/><circle cx="715.9" cy="477.9" r="1.8"/><circle cx="711.4" cy="478.2" r="1.8"/><circle cx="712.1" cy="478.8" r="1.8"/><circle cx="700.6" cy="479.8" r="1.8"/><circle cx="721.4" cy="480.2" r="1.8"/><circle cx="709.5" cy="480.8" r="1.8"/><circle cx="706.4" cy="482.5" r="1.8"/><circle cx="704.0" cy="484.3" r="1.8"/><circle cx="717.4" cy="485.3" r="1.8"/><circle cx="712.4" cy="487.4" r="1.8"/><circle cx="712.0" cy="488.3" r="1.8"/><circle cx="710.6" cy="490.1" r="1.8"/><circle cx="722.3" cy="491.3" r="1.8"/><circle cx="722.6" cy="494.2" r="1.8"/><circle cx="710.0" cy="494.9" r="1.8"/><circle cx="701.8" cy="497.3" r="1.8"/><circle cx="722.6" cy="497.9" r="1.8"/><circle cx="705.9" cy="500.5" r="1.8"/><circle cx="719.1" cy="500.8" r="1.8"/><circle cx="700.1" cy="503.9" r="1.8"/><circle cx="718.2" cy="504.0" r="1.8"/><circle cx="710.8" cy="506.3" r="1.8"/><circle cx="720.3" cy="510.2" r="1.8"/><circle cx="705.3" cy="508.7" r="1.8"/><circle cx="713.7" cy="507.3" r="1.8"/><circle cx="722.6" cy="510.2" r="1.8"/><circle cx="707.9" cy="515.5" r="1.8"/><circle cx="701.5" cy="521.5" r="1.8"/><circle cx="720.1" cy="527.7" r="1.8"/><circle cx="717.2" cy="529.6" r="1.8"/><circle cx="700.2" cy="534.6" r="1.8"/><circle cx="708.1" cy="536.6" r="1.8"/><circle cx="703.4" cy="550.4" r="1.8"/><circle cx="709.5" cy="560.8" r="1.8"/><circle cx="718.2" cy="601.8" r="1.8"/><circle cx="713.0" cy="612.1" r="1.8"/><circle cx="709.6" cy="637.7" r="1.8"/><circle cx="711.2" cy="637.7" r="1.8"/><circle cx="717.3" cy="457.6" r="1.8"/><circle cx="710.9" cy="458.9" r="1.8"/><circle cx="715.3" cy="459.6" r="1.8"/><circle cx="721.9" cy="460.3" r="1.8"/><circle cx="701.9" cy="461.6" r="1.8"/><circle cx="720.6" cy="462.3" r="1.8"/><circle cx="721.6" cy="463.0" r="1.8"/><circle cx="710.9" cy="463.7" r="1.8"/><circle cx="709.5" cy="464.6" r="1.8"/><circle cx="709.4" cy="465.3" r="1.8"/><circle cx="709.3" cy="466.0" r="1.8"/><circle cx="701.9" cy="467.3" r="1.8"/><circle cx="711.3" cy="468.3" r="1.8"/><circle cx="712.8" cy="468.5" r="1.8"/><circle cx="713.4" cy="469.9" r="1.8"/><circle cx="717.9" cy="470.9" r="1.8"/><circle cx="722.1" cy="471.4" r="1.8"/><circle cx="712.7" cy="472.3" r="1.8"/><circle cx="702.9" cy="473.7" r="1.8"/><circle cx="703.2" cy="474.0" r="1.8"/><circle cx="709.1" cy="475.0" r="1.8"/><circle cx="702.0" cy="475.8" r="1.8"/><circle cx="716.6" cy="477.1" r="1.8"/><circle cx="721.8" cy="477.8" r="1.8"/><circle cx="708.0" cy="478.9" r="1.8"/><circle cx="710.7" cy="480.1" r="1.8"/><circle cx="718.6" cy="480.8" r="1.8"/><circle cx="707.3" cy="481.7" r="1.8"/><circle cx="703.8" cy="483.6" r="1.8"/><circle cx="702.2" cy="484.8" r="1.8"/><circle cx="718.9" cy="485.8" r="1.8"/><circle cx="707.9" cy="488.2" r="1.8"/><circle cx="718.5" cy="490.6" r="1.8"/><circle cx="721.6" cy="492.2" r="1.8"/><circle cx="718.2" cy="493.4" r="1.8"/><circle cx="702.6" cy="495.6" r="1.8"/><circle cx="710.6" cy="496.8" r="1.8"/><circle cx="709.0" cy="498.9" r="1.8"/><circle cx="715.6" cy="500.3" r="1.8"/><circle cx="720.0" cy="501.4" r="1.8"/></g>
<g fill="#606060"><path d="M711.5 533.6 l1.7 3 l-1.7 3 l-1.7 -3z"/><path d="M711.5 534.7 l1.7 3 l-1.7 3 l-1.7 -3z"/><path d="M711.5 542.8 l1.7 3 l-1.7 3 l-1.7 -3z"/><path d="M711.5 544.0 l1.7 3 l-1.7 3 l-1.7 -3z"/><path d="M711.5 547.4 l1.7 3 l-1.7 3 l-1.7 -3z"/><path d="M711.5 557.8 l1.7 3 l-1.7 3 l-1.7 -3z"/><path d="M711.5 576.9 l1.7 3 l-1.7 3 l-1.7 -3z"/><path d="M711.5 579.1 l1.7 3 l-1.7 3 l-1.7 -3z"/><path d="M711.5 583.5 l1.7 3 l-1.7 3 l-1.7 -3z"/><path d="M711.5 598.8 l1.7 3 l-1.7 3 l-1.7 -3z"/><path d="M711.5 609.1 l1.7 3 l-1.7 3 l-1.7 -3z"/><path d="M711.5 609.3 l1.7 3 l-1.7 3 l-1.7 -3z"/><path d="M711.5 618.6 l1.7 3 l-1.7 3 l-1.7 -3z"/><path d="M711.5 634.2 l1.7 3 l-1.7 3 l-1.7 -3z"/><path d="M711.5 634.5 l1.7 3 l-1.7 3 l-1.7 -3z"/><path d="M711.5 634.7 l1.7 3 l-1.7 3 l-1.7 -3z"/><path d="M711.5 634.9 l1.7 3 l-1.7 3 l-1.7 -3z"/></g>
<path d="M500.7 442 H603.7 M609 442 H712.2" stroke="#555" stroke-width="1.6" fill="none"/>
<path d="M500.7 441.5 V452.3 M603.7 441.5 V452.3 M609 441.5 V452.3 M712.2 441.5 V452.3" stroke="#1a2e6e" stroke-width="1.8" fill="none"/>
<text x="525.6" y="436.5" font-size="13.5" textLength="51.8" lengthAdjust="spacingAndGlyphs" stroke="#000" stroke-width="0.3"><tspan font-style="italic">p</tspan> &lt; 0.05</text>
<text x="633.7" y="436.5" font-size="13.5" textLength="52.2" lengthAdjust="spacingAndGlyphs" stroke="#000" stroke-width="0.3"><tspan font-style="italic">p</tspan> &lt; 0.05</text>
</svg></body></html>
